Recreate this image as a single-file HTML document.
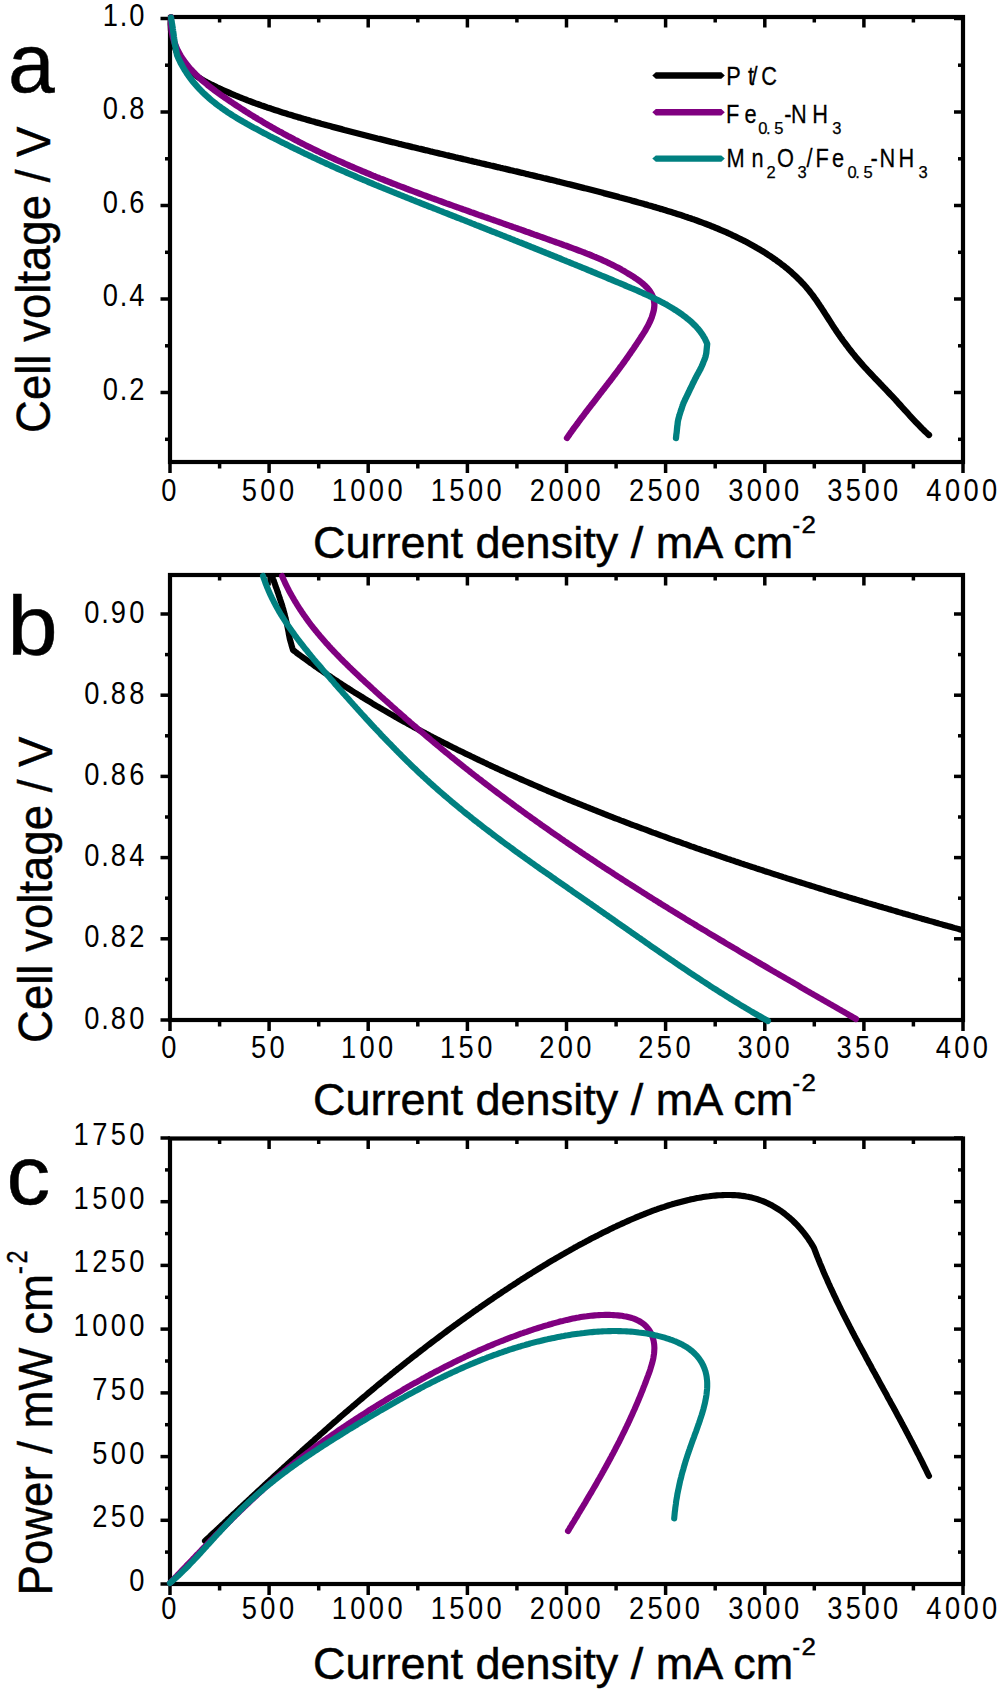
<!DOCTYPE html><html><head><meta charset="utf-8"><style>html,body{margin:0;padding:0;background:#fff;width:1000px;height:1693px;overflow:hidden}svg{display:block}text{font-family:"Liberation Sans",sans-serif;fill:#000}</style></head><body>
<svg width="1000" height="1693" viewBox="0 0 1000 1693">
<rect width="1000" height="1693" fill="#fff"/>
<line x1="170.0" y1="462.0" x2="170.0" y2="473.0" stroke="#000" stroke-width="3.5" stroke-linecap="butt"/>
<line x1="170.0" y1="17.0" x2="170.0" y2="27.5" stroke="#000" stroke-width="3.5" stroke-linecap="butt"/>
<line x1="219.6" y1="462.0" x2="219.6" y2="468.5" stroke="#000" stroke-width="3.5" stroke-linecap="butt"/>
<line x1="219.6" y1="17.0" x2="219.6" y2="22.5" stroke="#000" stroke-width="3.5" stroke-linecap="butt"/>
<line x1="269.1" y1="462.0" x2="269.1" y2="473.0" stroke="#000" stroke-width="3.5" stroke-linecap="butt"/>
<line x1="269.1" y1="17.0" x2="269.1" y2="27.5" stroke="#000" stroke-width="3.5" stroke-linecap="butt"/>
<line x1="318.7" y1="462.0" x2="318.7" y2="468.5" stroke="#000" stroke-width="3.5" stroke-linecap="butt"/>
<line x1="318.7" y1="17.0" x2="318.7" y2="22.5" stroke="#000" stroke-width="3.5" stroke-linecap="butt"/>
<line x1="368.2" y1="462.0" x2="368.2" y2="473.0" stroke="#000" stroke-width="3.5" stroke-linecap="butt"/>
<line x1="368.2" y1="17.0" x2="368.2" y2="27.5" stroke="#000" stroke-width="3.5" stroke-linecap="butt"/>
<line x1="417.8" y1="462.0" x2="417.8" y2="468.5" stroke="#000" stroke-width="3.5" stroke-linecap="butt"/>
<line x1="417.8" y1="17.0" x2="417.8" y2="22.5" stroke="#000" stroke-width="3.5" stroke-linecap="butt"/>
<line x1="467.4" y1="462.0" x2="467.4" y2="473.0" stroke="#000" stroke-width="3.5" stroke-linecap="butt"/>
<line x1="467.4" y1="17.0" x2="467.4" y2="27.5" stroke="#000" stroke-width="3.5" stroke-linecap="butt"/>
<line x1="516.9" y1="462.0" x2="516.9" y2="468.5" stroke="#000" stroke-width="3.5" stroke-linecap="butt"/>
<line x1="516.9" y1="17.0" x2="516.9" y2="22.5" stroke="#000" stroke-width="3.5" stroke-linecap="butt"/>
<line x1="566.5" y1="462.0" x2="566.5" y2="473.0" stroke="#000" stroke-width="3.5" stroke-linecap="butt"/>
<line x1="566.5" y1="17.0" x2="566.5" y2="27.5" stroke="#000" stroke-width="3.5" stroke-linecap="butt"/>
<line x1="616.1" y1="462.0" x2="616.1" y2="468.5" stroke="#000" stroke-width="3.5" stroke-linecap="butt"/>
<line x1="616.1" y1="17.0" x2="616.1" y2="22.5" stroke="#000" stroke-width="3.5" stroke-linecap="butt"/>
<line x1="665.6" y1="462.0" x2="665.6" y2="473.0" stroke="#000" stroke-width="3.5" stroke-linecap="butt"/>
<line x1="665.6" y1="17.0" x2="665.6" y2="27.5" stroke="#000" stroke-width="3.5" stroke-linecap="butt"/>
<line x1="715.2" y1="462.0" x2="715.2" y2="468.5" stroke="#000" stroke-width="3.5" stroke-linecap="butt"/>
<line x1="715.2" y1="17.0" x2="715.2" y2="22.5" stroke="#000" stroke-width="3.5" stroke-linecap="butt"/>
<line x1="764.8" y1="462.0" x2="764.8" y2="473.0" stroke="#000" stroke-width="3.5" stroke-linecap="butt"/>
<line x1="764.8" y1="17.0" x2="764.8" y2="27.5" stroke="#000" stroke-width="3.5" stroke-linecap="butt"/>
<line x1="814.3" y1="462.0" x2="814.3" y2="468.5" stroke="#000" stroke-width="3.5" stroke-linecap="butt"/>
<line x1="814.3" y1="17.0" x2="814.3" y2="22.5" stroke="#000" stroke-width="3.5" stroke-linecap="butt"/>
<line x1="863.9" y1="462.0" x2="863.9" y2="473.0" stroke="#000" stroke-width="3.5" stroke-linecap="butt"/>
<line x1="863.9" y1="17.0" x2="863.9" y2="27.5" stroke="#000" stroke-width="3.5" stroke-linecap="butt"/>
<line x1="913.4" y1="462.0" x2="913.4" y2="468.5" stroke="#000" stroke-width="3.5" stroke-linecap="butt"/>
<line x1="913.4" y1="17.0" x2="913.4" y2="22.5" stroke="#000" stroke-width="3.5" stroke-linecap="butt"/>
<line x1="963.0" y1="462.0" x2="963.0" y2="473.0" stroke="#000" stroke-width="3.5" stroke-linecap="butt"/>
<line x1="963.0" y1="17.0" x2="963.0" y2="27.5" stroke="#000" stroke-width="3.5" stroke-linecap="butt"/>
<line x1="165.0" y1="439.3" x2="170.0" y2="439.3" stroke="#000" stroke-width="3.5" stroke-linecap="butt"/>
<line x1="963.0" y1="439.3" x2="958.0" y2="439.3" stroke="#000" stroke-width="3.5" stroke-linecap="butt"/>
<line x1="160.5" y1="392.5" x2="170.0" y2="392.5" stroke="#000" stroke-width="3.5" stroke-linecap="butt"/>
<line x1="963.0" y1="392.5" x2="954.0" y2="392.5" stroke="#000" stroke-width="3.5" stroke-linecap="butt"/>
<line x1="165.0" y1="345.8" x2="170.0" y2="345.8" stroke="#000" stroke-width="3.5" stroke-linecap="butt"/>
<line x1="963.0" y1="345.8" x2="958.0" y2="345.8" stroke="#000" stroke-width="3.5" stroke-linecap="butt"/>
<line x1="160.5" y1="299.0" x2="170.0" y2="299.0" stroke="#000" stroke-width="3.5" stroke-linecap="butt"/>
<line x1="963.0" y1="299.0" x2="954.0" y2="299.0" stroke="#000" stroke-width="3.5" stroke-linecap="butt"/>
<line x1="165.0" y1="252.3" x2="170.0" y2="252.3" stroke="#000" stroke-width="3.5" stroke-linecap="butt"/>
<line x1="963.0" y1="252.3" x2="958.0" y2="252.3" stroke="#000" stroke-width="3.5" stroke-linecap="butt"/>
<line x1="160.5" y1="205.5" x2="170.0" y2="205.5" stroke="#000" stroke-width="3.5" stroke-linecap="butt"/>
<line x1="963.0" y1="205.5" x2="954.0" y2="205.5" stroke="#000" stroke-width="3.5" stroke-linecap="butt"/>
<line x1="165.0" y1="158.8" x2="170.0" y2="158.8" stroke="#000" stroke-width="3.5" stroke-linecap="butt"/>
<line x1="963.0" y1="158.8" x2="958.0" y2="158.8" stroke="#000" stroke-width="3.5" stroke-linecap="butt"/>
<line x1="160.5" y1="112.0" x2="170.0" y2="112.0" stroke="#000" stroke-width="3.5" stroke-linecap="butt"/>
<line x1="963.0" y1="112.0" x2="954.0" y2="112.0" stroke="#000" stroke-width="3.5" stroke-linecap="butt"/>
<line x1="165.0" y1="65.2" x2="170.0" y2="65.2" stroke="#000" stroke-width="3.5" stroke-linecap="butt"/>
<line x1="963.0" y1="65.2" x2="958.0" y2="65.2" stroke="#000" stroke-width="3.5" stroke-linecap="butt"/>
<line x1="160.5" y1="18.5" x2="170.0" y2="18.5" stroke="#000" stroke-width="3.5" stroke-linecap="butt"/>
<line x1="963.0" y1="18.5" x2="954.0" y2="18.5" stroke="#000" stroke-width="3.5" stroke-linecap="butt"/>
<rect x="170" y="17" width="793" height="445" fill="none" stroke="#000" stroke-width="4.2" stroke-linejoin="miter"/>
<text transform="translate(170.5,501) scale(0.88,1)" font-size="31" text-anchor="middle" letter-spacing="3.87" >0</text>
<text transform="translate(269.6,501) scale(0.88,1)" font-size="31" text-anchor="middle" letter-spacing="3.87" >500</text>
<text transform="translate(368.8,501) scale(0.88,1)" font-size="31" text-anchor="middle" letter-spacing="3.87" >1000</text>
<text transform="translate(467.9,501) scale(0.88,1)" font-size="31" text-anchor="middle" letter-spacing="3.87" >1500</text>
<text transform="translate(567.0,501) scale(0.88,1)" font-size="31" text-anchor="middle" letter-spacing="3.87" >2000</text>
<text transform="translate(666.1,501) scale(0.88,1)" font-size="31" text-anchor="middle" letter-spacing="3.87" >2500</text>
<text transform="translate(765.3,501) scale(0.88,1)" font-size="31" text-anchor="middle" letter-spacing="3.87" >3000</text>
<text transform="translate(864.4,501) scale(0.88,1)" font-size="31" text-anchor="middle" letter-spacing="3.87" >3500</text>
<text transform="translate(963.5,501) scale(0.88,1)" font-size="31" text-anchor="middle" letter-spacing="3.87" >4000</text>
<text transform="translate(147.9,399.5) scale(0.88,1)" font-size="31" text-anchor="end" letter-spacing="3.87" >0<tspan dx="-1.7">.</tspan><tspan dx="-1.7">2</tspan></text>
<text transform="translate(147.9,306.0) scale(0.88,1)" font-size="31" text-anchor="end" letter-spacing="3.87" >0<tspan dx="-1.7">.</tspan><tspan dx="-1.7">4</tspan></text>
<text transform="translate(147.9,212.5) scale(0.88,1)" font-size="31" text-anchor="end" letter-spacing="3.87" >0<tspan dx="-1.7">.</tspan><tspan dx="-1.7">6</tspan></text>
<text transform="translate(147.9,119.0) scale(0.88,1)" font-size="31" text-anchor="end" letter-spacing="3.87" >0<tspan dx="-1.7">.</tspan><tspan dx="-1.7">8</tspan></text>
<text transform="translate(147.9,25.5) scale(0.88,1)" font-size="31" text-anchor="end" letter-spacing="3.87" >1<tspan dx="-1.7">.</tspan><tspan dx="-1.7">0</tspan></text>
<line x1="170.0" y1="1020.0" x2="170.0" y2="1031.0" stroke="#000" stroke-width="3.5" stroke-linecap="butt"/>
<line x1="170.0" y1="575.0" x2="170.0" y2="585.5" stroke="#000" stroke-width="3.5" stroke-linecap="butt"/>
<line x1="219.6" y1="1020.0" x2="219.6" y2="1026.5" stroke="#000" stroke-width="3.5" stroke-linecap="butt"/>
<line x1="219.6" y1="575.0" x2="219.6" y2="580.5" stroke="#000" stroke-width="3.5" stroke-linecap="butt"/>
<line x1="269.1" y1="1020.0" x2="269.1" y2="1031.0" stroke="#000" stroke-width="3.5" stroke-linecap="butt"/>
<line x1="269.1" y1="575.0" x2="269.1" y2="585.5" stroke="#000" stroke-width="3.5" stroke-linecap="butt"/>
<line x1="318.7" y1="1020.0" x2="318.7" y2="1026.5" stroke="#000" stroke-width="3.5" stroke-linecap="butt"/>
<line x1="318.7" y1="575.0" x2="318.7" y2="580.5" stroke="#000" stroke-width="3.5" stroke-linecap="butt"/>
<line x1="368.2" y1="1020.0" x2="368.2" y2="1031.0" stroke="#000" stroke-width="3.5" stroke-linecap="butt"/>
<line x1="368.2" y1="575.0" x2="368.2" y2="585.5" stroke="#000" stroke-width="3.5" stroke-linecap="butt"/>
<line x1="417.8" y1="1020.0" x2="417.8" y2="1026.5" stroke="#000" stroke-width="3.5" stroke-linecap="butt"/>
<line x1="417.8" y1="575.0" x2="417.8" y2="580.5" stroke="#000" stroke-width="3.5" stroke-linecap="butt"/>
<line x1="467.4" y1="1020.0" x2="467.4" y2="1031.0" stroke="#000" stroke-width="3.5" stroke-linecap="butt"/>
<line x1="467.4" y1="575.0" x2="467.4" y2="585.5" stroke="#000" stroke-width="3.5" stroke-linecap="butt"/>
<line x1="516.9" y1="1020.0" x2="516.9" y2="1026.5" stroke="#000" stroke-width="3.5" stroke-linecap="butt"/>
<line x1="516.9" y1="575.0" x2="516.9" y2="580.5" stroke="#000" stroke-width="3.5" stroke-linecap="butt"/>
<line x1="566.5" y1="1020.0" x2="566.5" y2="1031.0" stroke="#000" stroke-width="3.5" stroke-linecap="butt"/>
<line x1="566.5" y1="575.0" x2="566.5" y2="585.5" stroke="#000" stroke-width="3.5" stroke-linecap="butt"/>
<line x1="616.1" y1="1020.0" x2="616.1" y2="1026.5" stroke="#000" stroke-width="3.5" stroke-linecap="butt"/>
<line x1="616.1" y1="575.0" x2="616.1" y2="580.5" stroke="#000" stroke-width="3.5" stroke-linecap="butt"/>
<line x1="665.6" y1="1020.0" x2="665.6" y2="1031.0" stroke="#000" stroke-width="3.5" stroke-linecap="butt"/>
<line x1="665.6" y1="575.0" x2="665.6" y2="585.5" stroke="#000" stroke-width="3.5" stroke-linecap="butt"/>
<line x1="715.2" y1="1020.0" x2="715.2" y2="1026.5" stroke="#000" stroke-width="3.5" stroke-linecap="butt"/>
<line x1="715.2" y1="575.0" x2="715.2" y2="580.5" stroke="#000" stroke-width="3.5" stroke-linecap="butt"/>
<line x1="764.8" y1="1020.0" x2="764.8" y2="1031.0" stroke="#000" stroke-width="3.5" stroke-linecap="butt"/>
<line x1="764.8" y1="575.0" x2="764.8" y2="585.5" stroke="#000" stroke-width="3.5" stroke-linecap="butt"/>
<line x1="814.3" y1="1020.0" x2="814.3" y2="1026.5" stroke="#000" stroke-width="3.5" stroke-linecap="butt"/>
<line x1="814.3" y1="575.0" x2="814.3" y2="580.5" stroke="#000" stroke-width="3.5" stroke-linecap="butt"/>
<line x1="863.9" y1="1020.0" x2="863.9" y2="1031.0" stroke="#000" stroke-width="3.5" stroke-linecap="butt"/>
<line x1="863.9" y1="575.0" x2="863.9" y2="585.5" stroke="#000" stroke-width="3.5" stroke-linecap="butt"/>
<line x1="913.4" y1="1020.0" x2="913.4" y2="1026.5" stroke="#000" stroke-width="3.5" stroke-linecap="butt"/>
<line x1="913.4" y1="575.0" x2="913.4" y2="580.5" stroke="#000" stroke-width="3.5" stroke-linecap="butt"/>
<line x1="963.0" y1="1020.0" x2="963.0" y2="1031.0" stroke="#000" stroke-width="3.5" stroke-linecap="butt"/>
<line x1="963.0" y1="575.0" x2="963.0" y2="585.5" stroke="#000" stroke-width="3.5" stroke-linecap="butt"/>
<line x1="160.5" y1="1020.0" x2="170.0" y2="1020.0" stroke="#000" stroke-width="3.5" stroke-linecap="butt"/>
<line x1="963.0" y1="1020.0" x2="954.0" y2="1020.0" stroke="#000" stroke-width="3.5" stroke-linecap="butt"/>
<line x1="165.0" y1="979.4" x2="170.0" y2="979.4" stroke="#000" stroke-width="3.5" stroke-linecap="butt"/>
<line x1="963.0" y1="979.4" x2="958.0" y2="979.4" stroke="#000" stroke-width="3.5" stroke-linecap="butt"/>
<line x1="160.5" y1="938.8" x2="170.0" y2="938.8" stroke="#000" stroke-width="3.5" stroke-linecap="butt"/>
<line x1="963.0" y1="938.8" x2="954.0" y2="938.8" stroke="#000" stroke-width="3.5" stroke-linecap="butt"/>
<line x1="165.0" y1="898.2" x2="170.0" y2="898.2" stroke="#000" stroke-width="3.5" stroke-linecap="butt"/>
<line x1="963.0" y1="898.2" x2="958.0" y2="898.2" stroke="#000" stroke-width="3.5" stroke-linecap="butt"/>
<line x1="160.5" y1="857.6" x2="170.0" y2="857.6" stroke="#000" stroke-width="3.5" stroke-linecap="butt"/>
<line x1="963.0" y1="857.6" x2="954.0" y2="857.6" stroke="#000" stroke-width="3.5" stroke-linecap="butt"/>
<line x1="165.0" y1="817.0" x2="170.0" y2="817.0" stroke="#000" stroke-width="3.5" stroke-linecap="butt"/>
<line x1="963.0" y1="817.0" x2="958.0" y2="817.0" stroke="#000" stroke-width="3.5" stroke-linecap="butt"/>
<line x1="160.5" y1="776.4" x2="170.0" y2="776.4" stroke="#000" stroke-width="3.5" stroke-linecap="butt"/>
<line x1="963.0" y1="776.4" x2="954.0" y2="776.4" stroke="#000" stroke-width="3.5" stroke-linecap="butt"/>
<line x1="165.0" y1="735.8" x2="170.0" y2="735.8" stroke="#000" stroke-width="3.5" stroke-linecap="butt"/>
<line x1="963.0" y1="735.8" x2="958.0" y2="735.8" stroke="#000" stroke-width="3.5" stroke-linecap="butt"/>
<line x1="160.5" y1="695.2" x2="170.0" y2="695.2" stroke="#000" stroke-width="3.5" stroke-linecap="butt"/>
<line x1="963.0" y1="695.2" x2="954.0" y2="695.2" stroke="#000" stroke-width="3.5" stroke-linecap="butt"/>
<line x1="165.0" y1="654.6" x2="170.0" y2="654.6" stroke="#000" stroke-width="3.5" stroke-linecap="butt"/>
<line x1="963.0" y1="654.6" x2="958.0" y2="654.6" stroke="#000" stroke-width="3.5" stroke-linecap="butt"/>
<line x1="160.5" y1="614.0" x2="170.0" y2="614.0" stroke="#000" stroke-width="3.5" stroke-linecap="butt"/>
<line x1="963.0" y1="614.0" x2="954.0" y2="614.0" stroke="#000" stroke-width="3.5" stroke-linecap="butt"/>
<rect x="170" y="575" width="793" height="445" fill="none" stroke="#000" stroke-width="4.2" stroke-linejoin="miter"/>
<text transform="translate(170.5,1057.5) scale(0.88,1)" font-size="31" text-anchor="middle" letter-spacing="3.87" >0</text>
<text transform="translate(269.6,1057.5) scale(0.88,1)" font-size="31" text-anchor="middle" letter-spacing="3.87" >50</text>
<text transform="translate(368.8,1057.5) scale(0.88,1)" font-size="31" text-anchor="middle" letter-spacing="3.87" >100</text>
<text transform="translate(467.9,1057.5) scale(0.88,1)" font-size="31" text-anchor="middle" letter-spacing="3.87" >150</text>
<text transform="translate(567.0,1057.5) scale(0.88,1)" font-size="31" text-anchor="middle" letter-spacing="3.87" >200</text>
<text transform="translate(666.1,1057.5) scale(0.88,1)" font-size="31" text-anchor="middle" letter-spacing="3.87" >250</text>
<text transform="translate(765.3,1057.5) scale(0.88,1)" font-size="31" text-anchor="middle" letter-spacing="3.87" >300</text>
<text transform="translate(864.4,1057.5) scale(0.88,1)" font-size="31" text-anchor="middle" letter-spacing="3.87" >350</text>
<text transform="translate(963.5,1057.5) scale(0.88,1)" font-size="31" text-anchor="middle" letter-spacing="3.87" >400</text>
<text transform="translate(147.9,1028.5) scale(0.88,1)" font-size="31" text-anchor="end" letter-spacing="3.87" >0<tspan dx="-1.7">.</tspan><tspan dx="-1.7">80</tspan></text>
<text transform="translate(147.9,947.3) scale(0.88,1)" font-size="31" text-anchor="end" letter-spacing="3.87" >0<tspan dx="-1.7">.</tspan><tspan dx="-1.7">82</tspan></text>
<text transform="translate(147.9,866.1) scale(0.88,1)" font-size="31" text-anchor="end" letter-spacing="3.87" >0<tspan dx="-1.7">.</tspan><tspan dx="-1.7">84</tspan></text>
<text transform="translate(147.9,784.9) scale(0.88,1)" font-size="31" text-anchor="end" letter-spacing="3.87" >0<tspan dx="-1.7">.</tspan><tspan dx="-1.7">86</tspan></text>
<text transform="translate(147.9,703.7) scale(0.88,1)" font-size="31" text-anchor="end" letter-spacing="3.87" >0<tspan dx="-1.7">.</tspan><tspan dx="-1.7">88</tspan></text>
<text transform="translate(147.9,622.5) scale(0.88,1)" font-size="31" text-anchor="end" letter-spacing="3.87" >0<tspan dx="-1.7">.</tspan><tspan dx="-1.7">90</tspan></text>
<line x1="170.0" y1="1584.0" x2="170.0" y2="1595.0" stroke="#000" stroke-width="3.5" stroke-linecap="butt"/>
<line x1="170.0" y1="1138.5" x2="170.0" y2="1149.0" stroke="#000" stroke-width="3.5" stroke-linecap="butt"/>
<line x1="219.6" y1="1584.0" x2="219.6" y2="1590.5" stroke="#000" stroke-width="3.5" stroke-linecap="butt"/>
<line x1="219.6" y1="1138.5" x2="219.6" y2="1144.0" stroke="#000" stroke-width="3.5" stroke-linecap="butt"/>
<line x1="269.1" y1="1584.0" x2="269.1" y2="1595.0" stroke="#000" stroke-width="3.5" stroke-linecap="butt"/>
<line x1="269.1" y1="1138.5" x2="269.1" y2="1149.0" stroke="#000" stroke-width="3.5" stroke-linecap="butt"/>
<line x1="318.7" y1="1584.0" x2="318.7" y2="1590.5" stroke="#000" stroke-width="3.5" stroke-linecap="butt"/>
<line x1="318.7" y1="1138.5" x2="318.7" y2="1144.0" stroke="#000" stroke-width="3.5" stroke-linecap="butt"/>
<line x1="368.2" y1="1584.0" x2="368.2" y2="1595.0" stroke="#000" stroke-width="3.5" stroke-linecap="butt"/>
<line x1="368.2" y1="1138.5" x2="368.2" y2="1149.0" stroke="#000" stroke-width="3.5" stroke-linecap="butt"/>
<line x1="417.8" y1="1584.0" x2="417.8" y2="1590.5" stroke="#000" stroke-width="3.5" stroke-linecap="butt"/>
<line x1="417.8" y1="1138.5" x2="417.8" y2="1144.0" stroke="#000" stroke-width="3.5" stroke-linecap="butt"/>
<line x1="467.4" y1="1584.0" x2="467.4" y2="1595.0" stroke="#000" stroke-width="3.5" stroke-linecap="butt"/>
<line x1="467.4" y1="1138.5" x2="467.4" y2="1149.0" stroke="#000" stroke-width="3.5" stroke-linecap="butt"/>
<line x1="516.9" y1="1584.0" x2="516.9" y2="1590.5" stroke="#000" stroke-width="3.5" stroke-linecap="butt"/>
<line x1="516.9" y1="1138.5" x2="516.9" y2="1144.0" stroke="#000" stroke-width="3.5" stroke-linecap="butt"/>
<line x1="566.5" y1="1584.0" x2="566.5" y2="1595.0" stroke="#000" stroke-width="3.5" stroke-linecap="butt"/>
<line x1="566.5" y1="1138.5" x2="566.5" y2="1149.0" stroke="#000" stroke-width="3.5" stroke-linecap="butt"/>
<line x1="616.1" y1="1584.0" x2="616.1" y2="1590.5" stroke="#000" stroke-width="3.5" stroke-linecap="butt"/>
<line x1="616.1" y1="1138.5" x2="616.1" y2="1144.0" stroke="#000" stroke-width="3.5" stroke-linecap="butt"/>
<line x1="665.6" y1="1584.0" x2="665.6" y2="1595.0" stroke="#000" stroke-width="3.5" stroke-linecap="butt"/>
<line x1="665.6" y1="1138.5" x2="665.6" y2="1149.0" stroke="#000" stroke-width="3.5" stroke-linecap="butt"/>
<line x1="715.2" y1="1584.0" x2="715.2" y2="1590.5" stroke="#000" stroke-width="3.5" stroke-linecap="butt"/>
<line x1="715.2" y1="1138.5" x2="715.2" y2="1144.0" stroke="#000" stroke-width="3.5" stroke-linecap="butt"/>
<line x1="764.8" y1="1584.0" x2="764.8" y2="1595.0" stroke="#000" stroke-width="3.5" stroke-linecap="butt"/>
<line x1="764.8" y1="1138.5" x2="764.8" y2="1149.0" stroke="#000" stroke-width="3.5" stroke-linecap="butt"/>
<line x1="814.3" y1="1584.0" x2="814.3" y2="1590.5" stroke="#000" stroke-width="3.5" stroke-linecap="butt"/>
<line x1="814.3" y1="1138.5" x2="814.3" y2="1144.0" stroke="#000" stroke-width="3.5" stroke-linecap="butt"/>
<line x1="863.9" y1="1584.0" x2="863.9" y2="1595.0" stroke="#000" stroke-width="3.5" stroke-linecap="butt"/>
<line x1="863.9" y1="1138.5" x2="863.9" y2="1149.0" stroke="#000" stroke-width="3.5" stroke-linecap="butt"/>
<line x1="913.4" y1="1584.0" x2="913.4" y2="1590.5" stroke="#000" stroke-width="3.5" stroke-linecap="butt"/>
<line x1="913.4" y1="1138.5" x2="913.4" y2="1144.0" stroke="#000" stroke-width="3.5" stroke-linecap="butt"/>
<line x1="963.0" y1="1584.0" x2="963.0" y2="1595.0" stroke="#000" stroke-width="3.5" stroke-linecap="butt"/>
<line x1="963.0" y1="1138.5" x2="963.0" y2="1149.0" stroke="#000" stroke-width="3.5" stroke-linecap="butt"/>
<line x1="160.5" y1="1584.0" x2="170.0" y2="1584.0" stroke="#000" stroke-width="3.5" stroke-linecap="butt"/>
<line x1="963.0" y1="1584.0" x2="954.0" y2="1584.0" stroke="#000" stroke-width="3.5" stroke-linecap="butt"/>
<line x1="165.0" y1="1552.1" x2="170.0" y2="1552.1" stroke="#000" stroke-width="3.5" stroke-linecap="butt"/>
<line x1="963.0" y1="1552.1" x2="958.0" y2="1552.1" stroke="#000" stroke-width="3.5" stroke-linecap="butt"/>
<line x1="160.5" y1="1520.3" x2="170.0" y2="1520.3" stroke="#000" stroke-width="3.5" stroke-linecap="butt"/>
<line x1="963.0" y1="1520.3" x2="954.0" y2="1520.3" stroke="#000" stroke-width="3.5" stroke-linecap="butt"/>
<line x1="165.0" y1="1488.4" x2="170.0" y2="1488.4" stroke="#000" stroke-width="3.5" stroke-linecap="butt"/>
<line x1="963.0" y1="1488.4" x2="958.0" y2="1488.4" stroke="#000" stroke-width="3.5" stroke-linecap="butt"/>
<line x1="160.5" y1="1456.6" x2="170.0" y2="1456.6" stroke="#000" stroke-width="3.5" stroke-linecap="butt"/>
<line x1="963.0" y1="1456.6" x2="954.0" y2="1456.6" stroke="#000" stroke-width="3.5" stroke-linecap="butt"/>
<line x1="165.0" y1="1424.7" x2="170.0" y2="1424.7" stroke="#000" stroke-width="3.5" stroke-linecap="butt"/>
<line x1="963.0" y1="1424.7" x2="958.0" y2="1424.7" stroke="#000" stroke-width="3.5" stroke-linecap="butt"/>
<line x1="160.5" y1="1392.9" x2="170.0" y2="1392.9" stroke="#000" stroke-width="3.5" stroke-linecap="butt"/>
<line x1="963.0" y1="1392.9" x2="954.0" y2="1392.9" stroke="#000" stroke-width="3.5" stroke-linecap="butt"/>
<line x1="165.0" y1="1361.0" x2="170.0" y2="1361.0" stroke="#000" stroke-width="3.5" stroke-linecap="butt"/>
<line x1="963.0" y1="1361.0" x2="958.0" y2="1361.0" stroke="#000" stroke-width="3.5" stroke-linecap="butt"/>
<line x1="160.5" y1="1329.1" x2="170.0" y2="1329.1" stroke="#000" stroke-width="3.5" stroke-linecap="butt"/>
<line x1="963.0" y1="1329.1" x2="954.0" y2="1329.1" stroke="#000" stroke-width="3.5" stroke-linecap="butt"/>
<line x1="165.0" y1="1297.3" x2="170.0" y2="1297.3" stroke="#000" stroke-width="3.5" stroke-linecap="butt"/>
<line x1="963.0" y1="1297.3" x2="958.0" y2="1297.3" stroke="#000" stroke-width="3.5" stroke-linecap="butt"/>
<line x1="160.5" y1="1265.4" x2="170.0" y2="1265.4" stroke="#000" stroke-width="3.5" stroke-linecap="butt"/>
<line x1="963.0" y1="1265.4" x2="954.0" y2="1265.4" stroke="#000" stroke-width="3.5" stroke-linecap="butt"/>
<line x1="165.0" y1="1233.6" x2="170.0" y2="1233.6" stroke="#000" stroke-width="3.5" stroke-linecap="butt"/>
<line x1="963.0" y1="1233.6" x2="958.0" y2="1233.6" stroke="#000" stroke-width="3.5" stroke-linecap="butt"/>
<line x1="160.5" y1="1201.7" x2="170.0" y2="1201.7" stroke="#000" stroke-width="3.5" stroke-linecap="butt"/>
<line x1="963.0" y1="1201.7" x2="954.0" y2="1201.7" stroke="#000" stroke-width="3.5" stroke-linecap="butt"/>
<line x1="165.0" y1="1169.9" x2="170.0" y2="1169.9" stroke="#000" stroke-width="3.5" stroke-linecap="butt"/>
<line x1="963.0" y1="1169.9" x2="958.0" y2="1169.9" stroke="#000" stroke-width="3.5" stroke-linecap="butt"/>
<line x1="160.5" y1="1138.0" x2="170.0" y2="1138.0" stroke="#000" stroke-width="3.5" stroke-linecap="butt"/>
<line x1="963.0" y1="1138.0" x2="954.0" y2="1138.0" stroke="#000" stroke-width="3.5" stroke-linecap="butt"/>
<rect x="170" y="1138.5" width="793" height="445.5" fill="none" stroke="#000" stroke-width="4.2" stroke-linejoin="miter"/>
<text transform="translate(170.5,1619) scale(0.88,1)" font-size="31" text-anchor="middle" letter-spacing="3.87" >0</text>
<text transform="translate(269.6,1619) scale(0.88,1)" font-size="31" text-anchor="middle" letter-spacing="3.87" >500</text>
<text transform="translate(368.8,1619) scale(0.88,1)" font-size="31" text-anchor="middle" letter-spacing="3.87" >1000</text>
<text transform="translate(467.9,1619) scale(0.88,1)" font-size="31" text-anchor="middle" letter-spacing="3.87" >1500</text>
<text transform="translate(567.0,1619) scale(0.88,1)" font-size="31" text-anchor="middle" letter-spacing="3.87" >2000</text>
<text transform="translate(666.1,1619) scale(0.88,1)" font-size="31" text-anchor="middle" letter-spacing="3.87" >2500</text>
<text transform="translate(765.3,1619) scale(0.88,1)" font-size="31" text-anchor="middle" letter-spacing="3.87" >3000</text>
<text transform="translate(864.4,1619) scale(0.88,1)" font-size="31" text-anchor="middle" letter-spacing="3.87" >3500</text>
<text transform="translate(963.5,1619) scale(0.88,1)" font-size="31" text-anchor="middle" letter-spacing="3.87" >4000</text>
<text transform="translate(147.9,1591.0) scale(0.88,1)" font-size="31" text-anchor="end" letter-spacing="3.87" >0</text>
<text transform="translate(147.9,1527.3) scale(0.88,1)" font-size="31" text-anchor="end" letter-spacing="3.87" >250</text>
<text transform="translate(147.9,1463.6) scale(0.88,1)" font-size="31" text-anchor="end" letter-spacing="3.87" >500</text>
<text transform="translate(147.9,1399.9) scale(0.88,1)" font-size="31" text-anchor="end" letter-spacing="3.87" >750</text>
<text transform="translate(147.9,1336.1) scale(0.88,1)" font-size="31" text-anchor="end" letter-spacing="3.87" >1000</text>
<text transform="translate(147.9,1272.4) scale(0.88,1)" font-size="31" text-anchor="end" letter-spacing="3.87" >1250</text>
<text transform="translate(147.9,1208.7) scale(0.88,1)" font-size="31" text-anchor="end" letter-spacing="3.87" >1500</text>
<text transform="translate(147.9,1145.0) scale(0.88,1)" font-size="31" text-anchor="end" letter-spacing="3.87" >1750</text>
<path d="M171.0,17.5 L170.9,19.6 L170.8,21.7 L170.7,23.8 L170.8,25.9 L170.9,28.0 L171.0,30.0 L171.3,32.1 L171.5,34.1 L171.9,36.2 L172.3,38.2 L172.7,40.2 L173.2,42.2 L173.8,44.1 L174.4,46.1 L175.1,48.0 L175.8,49.8 L176.6,51.7 L177.4,53.5 L178.3,55.3 L179.3,57.0 L180.3,58.7 L181.3,60.4 L182.4,62.0 L183.6,63.6 L184.8,65.2 L186.0,66.6 L187.3,68.1 L188.7,69.5 L190.1,70.8 L191.5,72.1 L193.0,73.4 L194.5,74.6 L196.1,75.7 L197.7,76.8 L199.4,77.9 L201.0,79.0 L202.7,80.0 L204.4,81.0 L206.2,81.9 L207.9,82.9 L209.7,83.8 L211.5,84.7 L213.3,85.5 L215.1,86.4 L216.9,87.3 L218.7,88.1 L220.5,89.0 L222.3,89.8 L224.1,90.6 L226.0,91.4 L227.8,92.2 L229.6,93.0 L231.5,93.8 L233.3,94.6 L235.2,95.4 L237.0,96.1 L238.9,96.9 L240.7,97.6 L242.6,98.4 L244.5,99.1 L246.3,99.8 L248.2,100.6 L250.1,101.3 L251.9,102.0 L253.8,102.7 L255.7,103.4 L257.6,104.0 L259.5,104.7 L261.4,105.4 L263.3,106.0 L265.2,106.7 L267.1,107.4 L269.0,108.0 L270.9,108.6 L272.8,109.3 L274.7,109.9 L276.6,110.5 L278.5,111.1 L280.4,111.8 L282.4,112.4 L284.3,113.0 L286.2,113.6 L288.1,114.2 L290.1,114.7 L292.0,115.3 L293.9,115.9 L295.8,116.5 L297.8,117.1 L299.7,117.6 L301.6,118.2 L303.6,118.8 L305.5,119.3 L307.5,119.9 L309.4,120.4 L311.3,121.0 L313.3,121.5 L315.2,122.1 L317.2,122.6 L319.1,123.1 L321.0,123.7 L323.0,124.2 L324.9,124.7 L326.9,125.3 L328.8,125.8 L330.8,126.3 L332.7,126.9 L334.6,127.4 L336.6,127.9 L338.5,128.4 L340.5,128.9 L342.4,129.4 L344.4,130.0 L346.3,130.5 L348.3,131.0 L350.2,131.5 L352.2,132.0 L354.1,132.5 L356.1,133.0 L358.0,133.5 L359.9,134.0 L361.9,134.5 L363.8,135.0 L365.8,135.5 L367.7,136.0 L369.7,136.5 L371.6,137.0 L373.6,137.5 L375.5,138.0 L377.5,138.5 L379.4,138.9 L381.4,139.4 L383.3,139.9 L385.3,140.4 L387.2,140.9 L389.2,141.4 L391.1,141.9 L393.1,142.3 L395.0,142.8 L397.0,143.3 L398.9,143.8 L400.9,144.2 L402.8,144.7 L404.8,145.2 L406.8,145.7 L408.7,146.1 L410.7,146.6 L412.6,147.1 L414.6,147.5 L416.5,148.0 L418.5,148.5 L420.4,148.9 L422.4,149.4 L424.3,149.9 L426.3,150.3 L428.2,150.8 L430.2,151.3 L432.1,151.7 L434.1,152.2 L436.0,152.7 L438.0,153.1 L439.9,153.6 L441.9,154.0 L443.9,154.5 L445.8,155.0 L447.8,155.4 L449.7,155.9 L451.7,156.3 L453.6,156.8 L455.6,157.3 L457.5,157.7 L459.5,158.2 L461.4,158.6 L463.4,159.1 L465.3,159.5 L467.3,160.0 L469.2,160.5 L471.2,160.9 L473.1,161.4 L475.1,161.8 L477.1,162.3 L479.0,162.7 L481.0,163.2 L482.9,163.7 L484.9,164.1 L486.8,164.6 L488.8,165.0 L490.7,165.5 L492.7,165.9 L494.6,166.4 L496.6,166.9 L498.5,167.3 L500.5,167.8 L502.4,168.2 L504.4,168.7 L506.3,169.1 L508.3,169.6 L510.2,170.1 L512.2,170.5 L514.1,171.0 L516.1,171.4 L518.1,171.9 L520.0,172.4 L522.0,172.8 L523.9,173.3 L525.9,173.8 L527.8,174.2 L529.8,174.7 L531.7,175.2 L533.7,175.6 L535.6,176.1 L537.6,176.6 L539.5,177.0 L541.5,177.5 L543.4,178.0 L545.3,178.4 L547.3,178.9 L549.2,179.4 L551.2,179.8 L553.1,180.3 L555.1,180.8 L557.0,181.3 L559.0,181.7 L560.9,182.2 L562.9,182.7 L564.8,183.2 L566.8,183.7 L568.7,184.2 L570.7,184.6 L572.6,185.1 L574.6,185.6 L576.5,186.1 L578.4,186.6 L580.4,187.1 L582.3,187.6 L584.3,188.1 L586.2,188.5 L588.2,189.0 L590.1,189.5 L592.1,190.0 L594.0,190.5 L595.9,191.0 L597.9,191.5 L599.8,192.0 L601.8,192.5 L603.7,193.1 L605.6,193.6 L607.6,194.1 L609.5,194.6 L611.5,195.1 L613.4,195.6 L615.3,196.1 L617.3,196.6 L619.2,197.2 L621.2,197.7 L623.1,198.2 L625.0,198.7 L627.0,199.3 L628.9,199.8 L630.8,200.3 L632.8,200.9 L634.7,201.4 L636.6,201.9 L638.6,202.5 L640.5,203.0 L642.4,203.5 L644.4,204.1 L646.3,204.6 L648.2,205.2 L650.2,205.7 L652.1,206.3 L654.0,206.9 L656.0,207.4 L657.9,208.0 L659.8,208.6 L661.7,209.1 L663.7,209.7 L665.6,210.3 L667.5,210.9 L669.4,211.5 L671.4,212.1 L673.3,212.7 L675.2,213.3 L677.1,213.9 L679.0,214.5 L680.9,215.1 L682.8,215.7 L684.7,216.4 L686.6,217.0 L688.5,217.7 L690.4,218.3 L692.3,219.0 L694.2,219.6 L696.1,220.3 L698.0,221.0 L699.9,221.7 L701.8,222.4 L703.7,223.1 L705.5,223.8 L707.4,224.5 L709.3,225.2 L711.2,226.0 L713.0,226.7 L714.9,227.5 L716.7,228.2 L718.6,229.0 L720.4,229.8 L722.3,230.6 L724.1,231.4 L726.0,232.2 L727.8,233.0 L729.7,233.9 L731.5,234.7 L733.3,235.6 L735.1,236.4 L737.0,237.3 L738.8,238.2 L740.6,239.1 L742.4,240.0 L744.2,240.9 L746.0,241.8 L747.8,242.8 L749.5,243.7 L751.3,244.7 L753.1,245.7 L754.9,246.7 L756.6,247.7 L758.4,248.7 L760.1,249.7 L761.8,250.8 L763.5,251.8 L765.3,252.9 L767.0,254.0 L768.6,255.1 L770.3,256.2 L772.0,257.3 L773.6,258.5 L775.3,259.6 L776.9,260.8 L778.5,261.9 L780.1,263.1 L781.7,264.4 L783.3,265.6 L784.9,266.8 L786.4,268.1 L788.0,269.3 L789.5,270.6 L791.0,271.9 L792.4,273.2 L793.9,274.6 L795.4,275.9 L796.8,277.3 L798.2,278.7 L799.6,280.1 L801.0,281.5 L802.3,282.9 L803.7,284.3 L805.0,285.8 L806.3,287.3 L807.5,288.8 L808.8,290.3 L810.0,291.8 L811.2,293.4 L812.4,294.9 L813.6,296.5 L814.7,298.1 L815.9,299.7 L817.0,301.3 L818.1,303.0 L819.2,304.6 L820.3,306.3 L821.4,307.9 L822.5,309.6 L823.6,311.3 L824.6,312.9 L825.7,314.6 L826.8,316.3 L827.9,318.0 L829.0,319.7 L830.1,321.4 L831.2,323.1 L832.3,324.9 L833.4,326.6 L834.5,328.3 L835.7,330.0 L836.8,331.7 L838.0,333.4 L839.2,335.1 L840.3,336.8 L841.5,338.4 L842.7,340.1 L844.0,341.8 L845.2,343.4 L846.4,345.1 L847.7,346.7 L848.9,348.4 L850.2,350.0 L851.4,351.6 L852.7,353.2 L854.0,354.7 L855.2,356.3 L856.5,357.9 L857.8,359.4 L859.1,360.9 L860.4,362.4 L861.7,363.9 L863.0,365.4 L864.3,366.8 L865.7,368.3 L867.0,369.7 L868.3,371.2 L869.6,372.6 L871.0,374.0 L872.3,375.4 L873.7,376.9 L875.0,378.3 L876.4,379.7 L877.7,381.1 L879.1,382.5 L880.4,383.9 L881.8,385.3 L883.2,386.8 L884.5,388.2 L885.9,389.6 L887.3,391.1 L888.6,392.5 L890.0,394.0 L891.4,395.4 L892.8,396.9 L894.2,398.4 L895.6,399.9 L896.9,401.4 L898.3,403.0 L899.7,404.5 L901.1,406.0 L902.5,407.6 L903.9,409.1 L905.3,410.7 L906.7,412.2 L908.1,413.7 L909.5,415.3 L910.9,416.8 L912.3,418.3 L913.7,419.8 L915.1,421.3 L916.5,422.8 L917.9,424.2 L919.3,425.7 L920.6,427.1 L922.0,428.5 L923.4,429.8 L924.8,431.2 L926.2,432.5 L927.6,433.8 L929.0,435.0" fill="none" stroke="#000000" stroke-width="6.3" stroke-linejoin="round" stroke-linecap="round"/>
<path d="M171.0,17.5 L170.9,19.7 L170.9,21.9 L171.0,24.0 L171.1,26.1 L171.3,28.2 L171.5,30.2 L171.8,32.2 L172.2,34.2 L172.6,36.2 L173.1,38.1 L173.7,40.0 L174.2,41.8 L174.9,43.7 L175.6,45.5 L176.3,47.3 L177.1,49.0 L177.9,50.8 L178.8,52.5 L179.8,54.1 L180.7,55.8 L181.7,57.4 L182.8,59.1 L183.9,60.6 L185.0,62.2 L186.2,63.7 L187.4,65.3 L188.6,66.8 L189.9,68.3 L191.2,69.7 L192.6,71.2 L193.9,72.6 L195.3,74.0 L196.7,75.4 L198.2,76.8 L199.7,78.1 L201.2,79.5 L202.7,80.8 L204.2,82.1 L205.8,83.4 L207.3,84.7 L208.9,86.0 L210.5,87.2 L212.2,88.5 L213.8,89.7 L215.4,91.0 L217.1,92.2 L218.8,93.4 L220.4,94.6 L222.1,95.8 L223.8,96.9 L225.5,98.1 L227.2,99.3 L228.9,100.4 L230.6,101.6 L232.3,102.7 L234.0,103.9 L235.7,105.0 L237.4,106.1 L239.1,107.2 L240.8,108.3 L242.5,109.4 L244.2,110.5 L245.9,111.6 L247.7,112.7 L249.4,113.8 L251.1,114.9 L252.8,115.9 L254.5,117.0 L256.3,118.0 L258.0,119.1 L259.7,120.1 L261.5,121.1 L263.2,122.2 L264.9,123.2 L266.7,124.2 L268.4,125.2 L270.2,126.2 L271.9,127.2 L273.7,128.2 L275.4,129.2 L277.2,130.2 L278.9,131.2 L280.7,132.1 L282.5,133.1 L284.2,134.1 L286.0,135.0 L287.7,136.0 L289.5,136.9 L291.3,137.8 L293.1,138.8 L294.8,139.7 L296.6,140.6 L298.4,141.6 L300.2,142.5 L301.9,143.4 L303.7,144.3 L305.5,145.2 L307.3,146.1 L309.1,147.0 L310.9,147.8 L312.7,148.7 L314.5,149.6 L316.3,150.5 L318.1,151.3 L319.9,152.2 L321.7,153.1 L323.5,153.9 L325.3,154.8 L327.1,155.6 L328.9,156.5 L330.7,157.3 L332.6,158.1 L334.4,159.0 L336.2,159.8 L338.0,160.6 L339.8,161.4 L341.7,162.2 L343.5,163.0 L345.3,163.9 L347.2,164.7 L349.0,165.5 L350.8,166.3 L352.7,167.0 L354.5,167.8 L356.3,168.6 L358.2,169.4 L360.0,170.2 L361.9,171.0 L363.7,171.7 L365.6,172.5 L367.4,173.3 L369.3,174.0 L371.1,174.8 L373.0,175.6 L374.8,176.3 L376.7,177.1 L378.6,177.8 L380.4,178.6 L382.3,179.3 L384.2,180.0 L386.0,180.8 L387.9,181.5 L389.8,182.2 L391.6,183.0 L393.5,183.7 L395.4,184.4 L397.3,185.2 L399.1,185.9 L401.0,186.6 L402.9,187.3 L404.8,188.0 L406.7,188.8 L408.5,189.5 L410.4,190.2 L412.3,190.9 L414.2,191.6 L416.1,192.3 L418.0,193.0 L419.9,193.7 L421.7,194.4 L423.6,195.1 L425.5,195.8 L427.4,196.5 L429.3,197.2 L431.2,197.9 L433.1,198.6 L435.0,199.2 L436.9,199.9 L438.8,200.6 L440.7,201.3 L442.6,202.0 L444.5,202.7 L446.4,203.4 L448.3,204.0 L450.2,204.7 L452.1,205.4 L454.0,206.1 L455.9,206.8 L457.8,207.4 L459.7,208.1 L461.6,208.8 L463.5,209.5 L465.4,210.1 L467.3,210.8 L469.2,211.5 L471.1,212.2 L473.0,212.8 L474.9,213.5 L476.8,214.2 L478.7,214.9 L480.6,215.5 L482.5,216.2 L484.5,216.9 L486.4,217.5 L488.3,218.2 L490.2,218.9 L492.1,219.6 L494.0,220.2 L495.9,220.9 L497.8,221.6 L499.7,222.2 L501.6,222.9 L503.5,223.6 L505.4,224.3 L507.3,224.9 L509.2,225.6 L511.1,226.3 L513.0,227.0 L514.9,227.6 L516.9,228.3 L518.8,229.0 L520.7,229.6 L522.6,230.3 L524.5,231.0 L526.4,231.7 L528.3,232.3 L530.2,233.0 L532.1,233.7 L534.0,234.4 L535.9,235.0 L537.8,235.7 L539.7,236.4 L541.6,237.1 L543.5,237.7 L545.4,238.4 L547.3,239.1 L549.2,239.8 L551.0,240.4 L552.9,241.1 L554.8,241.8 L556.7,242.5 L558.6,243.1 L560.5,243.8 L562.4,244.5 L564.3,245.2 L566.2,245.8 L568.0,246.5 L569.9,247.2 L571.8,247.9 L573.7,248.6 L575.6,249.3 L577.4,250.0 L579.3,250.7 L581.2,251.4 L583.1,252.1 L584.9,252.8 L586.8,253.6 L588.6,254.3 L590.5,255.0 L592.3,255.8 L594.2,256.6 L596.0,257.3 L597.9,258.1 L599.7,258.9 L601.5,259.7 L603.4,260.6 L605.2,261.4 L607.0,262.2 L608.8,263.1 L610.6,264.0 L612.4,264.9 L614.2,265.8 L616.0,266.7 L617.8,267.6 L619.6,268.6 L621.4,269.6 L623.1,270.6 L624.9,271.6 L626.6,272.6 L628.4,273.7 L630.1,274.7 L631.8,275.8 L633.6,276.9 L635.3,278.1 L637.0,279.2 L638.7,280.4 L640.3,281.6 L641.9,282.9 L643.5,284.2 L644.9,285.5 L646.3,286.9 L647.7,288.4 L648.9,289.9 L650.0,291.4 L651.1,293.1 L652.0,294.8 L652.8,296.5 L653.4,298.4 L653.9,300.3 L654.2,302.3 L654.4,304.4 L654.3,306.4 L654.1,308.3 L653.8,310.2 L653.3,312.1 L652.8,314.0 L652.2,315.9 L651.6,317.8 L650.8,319.6 L650.0,321.5 L649.1,323.3 L648.2,325.2 L647.2,327.0 L646.2,328.8 L645.2,330.6 L644.1,332.4 L643.0,334.1 L641.8,335.9 L640.7,337.7 L639.6,339.4 L638.4,341.2 L637.3,342.9 L636.2,344.6 L635.0,346.3 L633.9,348.0 L632.7,349.7 L631.5,351.4 L630.4,353.1 L629.2,354.8 L628.0,356.5 L626.9,358.1 L625.7,359.8 L624.5,361.5 L623.3,363.1 L622.1,364.8 L620.9,366.4 L619.7,368.0 L618.5,369.7 L617.3,371.3 L616.1,372.9 L614.9,374.5 L613.6,376.2 L612.4,377.8 L611.2,379.4 L610.0,381.0 L608.7,382.6 L607.5,384.2 L606.2,385.8 L605.0,387.4 L603.8,389.0 L602.5,390.6 L601.3,392.2 L600.0,393.8 L598.8,395.5 L597.5,397.1 L596.3,398.7 L595.1,400.3 L593.8,401.9 L592.6,403.5 L591.3,405.1 L590.1,406.7 L588.8,408.3 L587.6,409.9 L586.4,411.5 L585.1,413.2 L583.9,414.8 L582.7,416.4 L581.4,418.0 L580.2,419.7 L579.0,421.3 L577.8,423.0 L576.6,424.6 L575.3,426.3 L574.1,427.9 L572.9,429.6 L571.7,431.3 L570.5,432.9 L569.4,434.6 L568.2,436.3 L567.0,438.0" fill="none" stroke="#800080" stroke-width="6.3" stroke-linejoin="round" stroke-linecap="round"/>
<path d="M171.0,17.5 L171.2,18.5 L171.3,19.6 L171.5,20.6 L171.7,21.7 L171.8,22.7 L172.0,23.8 L172.2,24.8 L172.3,25.8 L172.5,26.9 L172.7,27.9 L172.8,29.0 L173.0,30.0 L173.1,31.1 L173.3,32.1 L173.4,33.1 L173.6,34.2 L173.7,35.2 L173.8,36.3 L174.0,37.3 L174.1,38.4 L174.3,39.4 L174.4,40.5 L174.5,41.5 L174.7,42.6 L174.8,43.6 L175.0,44.6 L175.2,45.7 L175.4,46.7 L175.6,47.8 L175.8,48.8 L176.0,49.8 L176.2,50.9 L176.4,51.9 L176.6,52.9 L176.8,54.0 L177.0,55.0 L177.8,56.9 L178.7,58.8 L179.6,60.7 L180.5,62.6 L181.5,64.4 L182.5,66.2 L183.5,68.0 L184.5,69.7 L185.6,71.4 L186.7,73.1 L187.8,74.7 L189.0,76.4 L190.1,78.0 L191.3,79.5 L192.5,81.1 L193.8,82.6 L195.1,84.1 L196.4,85.6 L197.7,87.1 L199.0,88.5 L200.4,89.9 L201.7,91.3 L203.1,92.7 L204.6,94.1 L206.0,95.4 L207.4,96.7 L208.9,98.0 L210.4,99.3 L211.9,100.6 L213.4,101.8 L215.0,103.0 L216.5,104.3 L218.1,105.5 L219.7,106.6 L221.3,107.8 L222.9,108.9 L224.6,110.1 L226.2,111.2 L227.8,112.3 L229.5,113.4 L231.2,114.5 L232.9,115.6 L234.6,116.6 L236.3,117.7 L238.0,118.7 L239.7,119.7 L241.5,120.8 L243.2,121.8 L245.0,122.8 L246.7,123.8 L248.5,124.8 L250.2,125.7 L252.0,126.7 L253.8,127.7 L255.6,128.6 L257.4,129.6 L259.1,130.5 L260.9,131.5 L262.7,132.4 L264.5,133.4 L266.3,134.3 L268.1,135.2 L269.9,136.2 L271.7,137.1 L273.5,138.0 L275.3,138.9 L277.1,139.8 L278.9,140.8 L280.7,141.7 L282.5,142.6 L284.4,143.5 L286.2,144.4 L288.0,145.3 L289.8,146.2 L291.6,147.1 L293.4,148.0 L295.2,148.9 L297.0,149.7 L298.9,150.6 L300.7,151.5 L302.5,152.4 L304.3,153.3 L306.1,154.1 L308.0,155.0 L309.8,155.9 L311.6,156.7 L313.4,157.6 L315.3,158.4 L317.1,159.3 L318.9,160.1 L320.7,161.0 L322.6,161.8 L324.4,162.7 L326.2,163.5 L328.1,164.3 L329.9,165.2 L331.7,166.0 L333.6,166.8 L335.4,167.7 L337.2,168.5 L339.1,169.3 L340.9,170.1 L342.7,170.9 L344.6,171.7 L346.4,172.5 L348.3,173.3 L350.1,174.1 L351.9,174.9 L353.8,175.7 L355.6,176.5 L357.5,177.3 L359.3,178.1 L361.1,178.9 L363.0,179.7 L364.8,180.4 L366.7,181.2 L368.5,182.0 L370.4,182.8 L372.2,183.5 L374.1,184.3 L375.9,185.1 L377.8,185.8 L379.6,186.6 L381.5,187.4 L383.3,188.1 L385.2,188.9 L387.0,189.6 L388.9,190.4 L390.7,191.1 L392.6,191.9 L394.4,192.6 L396.3,193.4 L398.1,194.1 L400.0,194.9 L401.9,195.6 L403.7,196.4 L405.6,197.1 L407.4,197.9 L409.3,198.6 L411.1,199.3 L413.0,200.1 L414.9,200.8 L416.7,201.6 L418.6,202.3 L420.4,203.0 L422.3,203.8 L424.1,204.5 L426.0,205.2 L427.9,206.0 L429.7,206.7 L431.6,207.4 L433.4,208.2 L435.3,208.9 L437.2,209.6 L439.0,210.4 L440.9,211.1 L442.7,211.8 L444.6,212.6 L446.5,213.3 L448.3,214.0 L450.2,214.8 L452.0,215.5 L453.9,216.2 L455.8,217.0 L457.6,217.7 L459.5,218.4 L461.3,219.2 L463.2,219.9 L465.1,220.6 L466.9,221.4 L468.8,222.1 L470.6,222.8 L472.5,223.6 L474.4,224.3 L476.2,225.1 L478.1,225.8 L480.0,226.5 L481.8,227.3 L483.7,228.0 L485.5,228.7 L487.4,229.5 L489.3,230.2 L491.1,231.0 L493.0,231.7 L494.9,232.4 L496.7,233.2 L498.6,233.9 L500.4,234.6 L502.3,235.4 L504.2,236.1 L506.0,236.9 L507.9,237.6 L509.8,238.3 L511.6,239.1 L513.5,239.8 L515.3,240.6 L517.2,241.3 L519.1,242.1 L520.9,242.8 L522.8,243.5 L524.7,244.3 L526.5,245.0 L528.4,245.8 L530.2,246.5 L532.1,247.3 L534.0,248.0 L535.8,248.8 L537.7,249.5 L539.6,250.3 L541.4,251.0 L543.3,251.8 L545.1,252.5 L547.0,253.3 L548.9,254.0 L550.7,254.8 L552.6,255.5 L554.5,256.3 L556.3,257.0 L558.2,257.8 L560.1,258.5 L561.9,259.3 L563.8,260.1 L565.6,260.8 L567.5,261.6 L569.4,262.3 L571.2,263.1 L573.1,263.9 L575.0,264.6 L576.8,265.4 L578.7,266.1 L580.5,266.9 L582.4,267.7 L584.3,268.4 L586.1,269.2 L588.0,270.0 L589.9,270.7 L591.7,271.5 L593.6,272.3 L595.4,273.0 L597.3,273.8 L599.2,274.6 L601.0,275.4 L602.9,276.1 L604.8,276.9 L606.6,277.7 L608.5,278.5 L610.3,279.2 L612.2,280.0 L614.1,280.8 L615.9,281.6 L617.8,282.4 L619.7,283.1 L621.5,283.9 L623.4,284.7 L625.2,285.5 L627.1,286.3 L629.0,287.1 L630.8,287.9 L632.7,288.6 L634.5,289.4 L636.4,290.2 L638.3,291.0 L640.1,291.8 L642.0,292.7 L643.8,293.5 L645.6,294.3 L647.5,295.1 L649.3,296.0 L651.1,296.8 L652.9,297.7 L654.7,298.6 L656.5,299.5 L658.3,300.4 L660.1,301.3 L661.9,302.2 L663.7,303.1 L665.4,304.1 L667.2,305.1 L668.9,306.1 L670.6,307.1 L672.3,308.1 L674.0,309.2 L675.7,310.2 L677.4,311.3 L679.0,312.4 L680.7,313.6 L682.3,314.7 L683.9,315.9 L685.5,317.1 L687.0,318.4 L688.6,319.6 L690.1,320.9 L691.6,322.2 L693.0,323.6 L694.4,324.9 L695.8,326.3 L697.1,327.8 L698.4,329.2 L699.6,330.7 L700.8,332.3 L701.9,333.8 L702.9,335.4 L703.9,337.1 L704.9,338.7 L705.7,340.5 L706.5,342.2 L707.2,344.0 L707.1,345.0 L707.0,346.0 L706.9,347.0 L706.8,348.0 L706.7,349.0 L706.6,350.0 L706.5,351.0 L706.4,352.1 L706.3,353.1 L706.1,354.0 L705.9,355.0 L705.7,356.0 L705.4,357.0 L705.1,357.9 L704.8,358.9 L704.4,359.8 L704.0,360.7 L703.6,361.7 L703.2,362.6 L702.9,363.6 L702.5,364.5 L702.1,365.4 L701.7,366.3 L701.2,367.3 L700.8,368.2 L700.4,369.1 L699.9,370.0 L699.4,370.9 L698.9,371.8 L698.5,372.7 L698.0,373.5 L697.5,374.4 L697.0,375.3 L696.5,376.2 L696.1,377.1 L695.6,378.0 L695.1,378.9 L694.7,379.8 L694.2,380.7 L693.8,381.6 L693.3,382.5 L692.9,383.4 L692.4,384.3 L692.0,385.3 L691.6,386.2 L691.1,387.1 L690.7,388.0 L690.2,388.9 L689.8,389.8 L689.4,390.7 L688.9,391.6 L688.5,392.6 L688.1,393.5 L687.6,394.4 L687.2,395.3 L686.7,396.2 L686.3,397.1 L685.9,398.0 L685.4,398.9 L685.0,399.9 L684.6,400.8 L684.1,401.7 L683.7,402.6 L683.3,403.5 L683.0,404.5 L682.6,405.4 L682.3,406.4 L682.0,407.3 L681.7,408.3 L681.4,409.3 L681.1,410.2 L680.7,411.2 L680.4,412.2 L680.1,413.1 L679.8,414.1 L679.5,415.1 L679.2,416.0 L679.0,417.0 L678.7,418.0 L678.4,419.0 L678.2,419.9 L678.0,420.9 L677.8,421.9 L677.7,422.9 L677.6,423.9 L677.5,424.9 L677.3,425.9 L677.2,426.9 L677.1,427.9 L677.0,428.9 L676.9,430.0 L676.8,431.0 L676.7,432.0 L676.6,433.0 L676.4,434.0 L676.3,435.0 L676.2,436.0 L676.1,437.0 L676.0,438.0" fill="none" stroke="#008080" stroke-width="6.3" stroke-linejoin="round" stroke-linecap="round"/>
<path d="M272.0,576.0 L272.3,577.0 L272.7,577.9 L273.0,578.9 L273.4,579.8 L273.7,580.8 L274.0,581.7 L274.4,582.7 L274.7,583.6 L275.1,584.6 L275.4,585.5 L275.7,586.5 L276.1,587.5 L276.4,588.4 L276.8,589.4 L277.1,590.3 L277.4,591.3 L277.7,592.2 L278.1,593.2 L278.4,594.2 L278.7,595.1 L279.0,596.1 L279.4,597.1 L279.7,598.0 L280.0,599.0 L280.3,599.9 L280.6,600.9 L281.0,601.9 L281.3,602.8 L281.6,603.8 L281.9,604.8 L282.2,605.7 L282.5,606.7 L282.8,607.7 L283.1,608.6 L283.4,609.6 L283.6,610.6 L283.9,611.6 L284.1,612.5 L284.4,613.5 L284.6,614.5 L284.9,615.5 L285.1,616.5 L285.4,617.5 L285.6,618.4 L285.9,619.4 L286.1,620.4 L286.3,621.4 L286.6,622.4 L286.8,623.4 L287.0,624.4 L287.2,625.4 L287.4,626.3 L287.6,627.3 L287.8,628.3 L288.0,629.3 L288.2,630.3 L288.4,631.3 L288.6,632.3 L288.7,633.3 L288.9,634.3 L289.1,635.3 L289.3,636.3 L289.5,637.3 L289.7,638.3 L289.9,639.3 L290.2,640.3 L290.4,641.2 L290.7,642.2 L291.0,643.2 L291.3,644.2 L291.5,645.1 L291.8,646.1 L292.1,647.1 L292.4,648.1 L292.7,649.0 L293.0,650.0 L294.6,651.2 L296.2,652.5 L297.8,653.7 L299.5,654.9 L301.1,656.1 L302.7,657.3 L304.4,658.5 L306.0,659.6 L307.6,660.8 L309.3,662.0 L310.9,663.2 L312.6,664.3 L314.2,665.5 L315.8,666.7 L317.5,667.8 L319.1,669.0 L320.8,670.1 L322.5,671.3 L324.1,672.4 L325.8,673.6 L327.4,674.7 L329.1,675.8 L330.8,676.9 L332.4,678.1 L334.1,679.2 L335.8,680.3 L337.5,681.4 L339.1,682.5 L340.8,683.6 L342.5,684.7 L344.2,685.8 L345.8,686.9 L347.5,688.0 L349.2,689.0 L350.9,690.1 L352.6,691.2 L354.3,692.3 L356.0,693.3 L357.7,694.4 L359.4,695.4 L361.1,696.5 L362.8,697.5 L364.5,698.6 L366.2,699.6 L367.9,700.7 L369.6,701.7 L371.3,702.7 L373.0,703.8 L374.7,704.8 L376.4,705.8 L378.2,706.8 L379.9,707.9 L381.6,708.9 L383.3,709.9 L385.1,710.9 L386.8,711.9 L388.5,712.9 L390.2,713.9 L392.0,714.9 L393.7,715.9 L395.4,716.9 L397.2,717.8 L398.9,718.8 L400.6,719.8 L402.4,720.8 L404.1,721.7 L405.9,722.7 L407.6,723.7 L409.4,724.6 L411.1,725.6 L412.9,726.5 L414.6,727.5 L416.4,728.4 L418.1,729.4 L419.9,730.3 L421.6,731.3 L423.4,732.2 L425.2,733.1 L426.9,734.1 L428.7,735.0 L430.4,735.9 L432.2,736.8 L434.0,737.8 L435.8,738.7 L437.5,739.6 L439.3,740.5 L441.1,741.4 L442.8,742.3 L444.6,743.2 L446.4,744.1 L448.2,745.0 L450.0,745.9 L451.7,746.8 L453.5,747.7 L455.3,748.6 L457.1,749.5 L458.9,750.4 L460.7,751.2 L462.5,752.1 L464.3,753.0 L466.1,753.9 L467.9,754.7 L469.7,755.6 L471.5,756.5 L473.3,757.3 L475.1,758.2 L476.9,759.1 L478.7,759.9 L480.5,760.8 L482.3,761.6 L484.1,762.5 L485.9,763.3 L487.7,764.2 L489.5,765.0 L491.3,765.9 L493.1,766.7 L495.0,767.6 L496.8,768.4 L498.6,769.2 L500.4,770.1 L502.2,770.9 L504.1,771.7 L505.9,772.5 L507.7,773.4 L509.5,774.2 L511.4,775.0 L513.2,775.8 L515.0,776.6 L516.8,777.5 L518.7,778.3 L520.5,779.1 L522.3,779.9 L524.2,780.7 L526.0,781.5 L527.8,782.3 L529.7,783.1 L531.5,783.9 L533.4,784.7 L535.2,785.5 L537.1,786.3 L538.9,787.1 L540.7,787.9 L542.6,788.7 L544.4,789.5 L546.3,790.3 L548.1,791.1 L550.0,791.8 L551.8,792.6 L553.7,793.4 L555.5,794.2 L557.4,795.0 L559.2,795.7 L561.1,796.5 L563.0,797.3 L564.8,798.1 L566.7,798.8 L568.5,799.6 L570.4,800.4 L572.3,801.1 L574.1,801.9 L576.0,802.7 L577.9,803.4 L579.7,804.2 L581.6,804.9 L583.5,805.7 L585.3,806.4 L587.2,807.2 L589.1,807.9 L590.9,808.7 L592.8,809.4 L594.7,810.2 L596.6,810.9 L598.4,811.7 L600.3,812.4 L602.2,813.1 L604.1,813.9 L605.9,814.6 L607.8,815.4 L609.7,816.1 L611.6,816.8 L613.5,817.6 L615.3,818.3 L617.2,819.0 L619.1,819.7 L621.0,820.5 L622.9,821.2 L624.8,821.9 L626.6,822.6 L628.5,823.3 L630.4,824.1 L632.3,824.8 L634.2,825.5 L636.1,826.2 L638.0,826.9 L639.9,827.6 L641.8,828.3 L643.7,829.0 L645.6,829.7 L647.5,830.4 L649.3,831.1 L651.2,831.9 L653.1,832.6 L655.0,833.2 L656.9,833.9 L658.8,834.6 L660.7,835.3 L662.6,836.0 L664.5,836.7 L666.4,837.4 L668.3,838.1 L670.2,838.8 L672.1,839.5 L674.0,840.2 L675.9,840.8 L677.9,841.5 L679.8,842.2 L681.7,842.9 L683.6,843.6 L685.5,844.2 L687.4,844.9 L689.3,845.6 L691.2,846.3 L693.1,846.9 L695.0,847.6 L696.9,848.3 L698.8,848.9 L700.7,849.6 L702.7,850.3 L704.6,850.9 L706.5,851.6 L708.4,852.2 L710.3,852.9 L712.2,853.6 L714.1,854.2 L716.1,854.9 L718.0,855.5 L719.9,856.2 L721.8,856.8 L723.7,857.5 L725.6,858.1 L727.5,858.8 L729.5,859.4 L731.4,860.1 L733.3,860.7 L735.2,861.4 L737.1,862.0 L739.1,862.6 L741.0,863.3 L742.9,863.9 L744.8,864.6 L746.7,865.2 L748.7,865.8 L750.6,866.5 L752.5,867.1 L754.4,867.7 L756.3,868.4 L758.3,869.0 L760.2,869.6 L762.1,870.2 L764.0,870.9 L765.9,871.5 L767.9,872.1 L769.8,872.7 L771.7,873.3 L773.6,874.0 L775.6,874.6 L777.5,875.2 L779.4,875.8 L781.3,876.4 L783.3,877.1 L785.2,877.7 L787.1,878.3 L789.0,878.9 L791.0,879.5 L792.9,880.1 L794.8,880.7 L796.7,881.3 L798.7,881.9 L800.6,882.5 L802.5,883.1 L804.4,883.7 L806.4,884.3 L808.3,884.9 L810.2,885.5 L812.1,886.1 L814.1,886.7 L816.0,887.3 L817.9,887.9 L819.8,888.5 L821.8,889.1 L823.7,889.7 L825.6,890.3 L827.6,890.9 L829.5,891.5 L831.4,892.1 L833.3,892.6 L835.3,893.2 L837.2,893.8 L839.1,894.4 L841.0,895.0 L843.0,895.6 L844.9,896.1 L846.8,896.7 L848.7,897.3 L850.7,897.9 L852.6,898.5 L854.5,899.0 L856.4,899.6 L858.4,900.2 L860.3,900.8 L862.2,901.3 L864.1,901.9 L866.1,902.5 L868.0,903.1 L869.9,903.6 L871.8,904.2 L873.8,904.8 L875.7,905.3 L877.6,905.9 L879.5,906.5 L881.5,907.0 L883.4,907.6 L885.3,908.1 L887.2,908.7 L889.2,909.3 L891.1,909.8 L893.0,910.4 L894.9,910.9 L896.8,911.5 L898.8,912.1 L900.7,912.6 L902.6,913.2 L904.5,913.7 L906.5,914.3 L908.4,914.8 L910.3,915.4 L912.2,915.9 L914.1,916.5 L916.0,917.0 L918.0,917.6 L919.9,918.1 L921.8,918.7 L923.7,919.2 L925.6,919.8 L927.6,920.3 L929.5,920.9 L931.4,921.4 L933.3,921.9 L935.2,922.5 L937.1,923.0 L939.0,923.6 L941.0,924.1 L942.9,924.7 L944.8,925.2 L946.7,925.7 L948.6,926.3 L950.5,926.8 L952.4,927.3 L954.3,927.9 L956.3,928.4 L958.2,928.9 L960.1,929.5 L962.0,930.0" fill="none" stroke="#000000" stroke-width="6.1" stroke-linejoin="round" stroke-linecap="round"/>
<path d="M282.0,576.0 L282.8,577.9 L283.7,579.8 L284.6,581.7 L285.4,583.6 L286.3,585.4 L287.3,587.3 L288.2,589.1 L289.1,590.9 L290.1,592.7 L291.1,594.5 L292.1,596.3 L293.1,598.0 L294.1,599.8 L295.1,601.5 L296.2,603.2 L297.2,604.9 L298.3,606.6 L299.4,608.3 L300.5,610.0 L301.6,611.7 L302.7,613.3 L303.8,614.9 L305.0,616.6 L306.1,618.2 L307.3,619.8 L308.4,621.4 L309.6,623.0 L310.8,624.6 L312.0,626.1 L313.2,627.7 L314.5,629.2 L315.7,630.8 L317.0,632.3 L318.2,633.8 L319.5,635.3 L320.7,636.8 L322.0,638.3 L323.3,639.8 L324.6,641.3 L325.9,642.8 L327.2,644.2 L328.6,645.7 L329.9,647.2 L331.2,648.6 L332.6,650.0 L333.9,651.5 L335.3,652.9 L336.7,654.3 L338.0,655.7 L339.4,657.2 L340.8,658.6 L342.2,660.0 L343.6,661.4 L345.0,662.8 L346.4,664.1 L347.8,665.5 L349.2,666.9 L350.7,668.3 L352.1,669.7 L353.5,671.0 L355.0,672.4 L356.4,673.8 L357.9,675.1 L359.3,676.5 L360.8,677.9 L362.2,679.2 L363.7,680.6 L365.1,681.9 L366.6,683.3 L368.1,684.6 L369.6,686.0 L371.0,687.3 L372.5,688.7 L374.0,690.0 L375.5,691.4 L376.9,692.7 L378.4,694.1 L379.9,695.4 L381.4,696.8 L382.9,698.1 L384.4,699.5 L385.9,700.8 L387.4,702.1 L388.9,703.5 L390.4,704.8 L391.9,706.2 L393.4,707.5 L394.9,708.8 L396.4,710.2 L397.9,711.5 L399.4,712.8 L400.9,714.2 L402.5,715.5 L404.0,716.8 L405.5,718.2 L407.0,719.5 L408.6,720.8 L410.1,722.2 L411.6,723.5 L413.1,724.8 L414.7,726.1 L416.2,727.4 L417.7,728.8 L419.3,730.1 L420.8,731.4 L422.4,732.7 L423.9,734.0 L425.4,735.3 L427.0,736.6 L428.5,737.9 L430.1,739.2 L431.6,740.5 L433.2,741.8 L434.7,743.1 L436.3,744.4 L437.8,745.7 L439.4,747.0 L441.0,748.3 L442.5,749.6 L444.1,750.9 L445.6,752.2 L447.2,753.4 L448.8,754.7 L450.3,756.0 L451.9,757.3 L453.5,758.5 L455.1,759.8 L456.6,761.1 L458.2,762.3 L459.8,763.6 L461.4,764.9 L462.9,766.1 L464.5,767.4 L466.1,768.6 L467.7,769.9 L469.3,771.1 L470.8,772.4 L472.4,773.6 L474.0,774.9 L475.6,776.1 L477.2,777.3 L478.8,778.6 L480.4,779.8 L482.0,781.0 L483.6,782.3 L485.2,783.5 L486.8,784.7 L488.4,785.9 L490.0,787.2 L491.6,788.4 L493.2,789.6 L494.8,790.8 L496.4,792.0 L498.0,793.2 L499.6,794.4 L501.2,795.6 L502.8,796.8 L504.4,798.0 L506.0,799.2 L507.6,800.4 L509.3,801.6 L510.9,802.8 L512.5,804.0 L514.1,805.2 L515.7,806.4 L517.4,807.6 L519.0,808.8 L520.6,810.0 L522.2,811.1 L523.8,812.3 L525.5,813.5 L527.1,814.7 L528.7,815.8 L530.4,817.0 L532.0,818.2 L533.6,819.3 L535.3,820.5 L536.9,821.7 L538.5,822.8 L540.2,824.0 L541.8,825.2 L543.4,826.3 L545.1,827.5 L546.7,828.6 L548.4,829.8 L550.0,830.9 L551.6,832.1 L553.3,833.2 L554.9,834.4 L556.6,835.5 L558.2,836.6 L559.9,837.8 L561.5,838.9 L563.2,840.1 L564.8,841.2 L566.5,842.3 L568.1,843.5 L569.8,844.6 L571.5,845.7 L573.1,846.8 L574.8,848.0 L576.4,849.1 L578.1,850.2 L579.8,851.3 L581.4,852.5 L583.1,853.6 L584.7,854.7 L586.4,855.8 L588.1,856.9 L589.7,858.0 L591.4,859.1 L593.1,860.2 L594.7,861.3 L596.4,862.5 L598.1,863.6 L599.8,864.7 L601.4,865.8 L603.1,866.9 L604.8,868.0 L606.5,869.1 L608.1,870.2 L609.8,871.2 L611.5,872.3 L613.2,873.4 L614.8,874.5 L616.5,875.6 L618.2,876.7 L619.9,877.8 L621.6,878.9 L623.3,880.0 L624.9,881.0 L626.6,882.1 L628.3,883.2 L630.0,884.3 L631.7,885.4 L633.4,886.4 L635.1,887.5 L636.8,888.6 L638.4,889.7 L640.1,890.7 L641.8,891.8 L643.5,892.9 L645.2,893.9 L646.9,895.0 L648.6,896.1 L650.3,897.1 L652.0,898.2 L653.7,899.3 L655.4,900.3 L657.1,901.4 L658.8,902.5 L660.5,903.5 L662.2,904.6 L663.9,905.6 L665.6,906.7 L667.3,907.7 L669.0,908.8 L670.7,909.8 L672.4,910.9 L674.1,911.9 L675.8,913.0 L677.6,914.0 L679.3,915.1 L681.0,916.1 L682.7,917.2 L684.4,918.2 L686.1,919.3 L687.8,920.3 L689.5,921.4 L691.2,922.4 L693.0,923.4 L694.7,924.5 L696.4,925.5 L698.1,926.6 L699.8,927.6 L701.5,928.6 L703.2,929.7 L705.0,930.7 L706.7,931.7 L708.4,932.8 L710.1,933.8 L711.8,934.8 L713.6,935.9 L715.3,936.9 L717.0,937.9 L718.7,939.0 L720.4,940.0 L722.2,941.0 L723.9,942.0 L725.6,943.1 L727.3,944.1 L729.1,945.1 L730.8,946.2 L732.5,947.2 L734.2,948.2 L736.0,949.2 L737.7,950.2 L739.4,951.3 L741.2,952.3 L742.9,953.3 L744.6,954.3 L746.3,955.3 L748.1,956.4 L749.8,957.4 L751.5,958.4 L753.3,959.4 L755.0,960.4 L756.7,961.5 L758.5,962.5 L760.2,963.5 L761.9,964.5 L763.7,965.5 L765.4,966.5 L767.1,967.5 L768.9,968.6 L770.6,969.6 L772.3,970.6 L774.1,971.6 L775.8,972.6 L777.6,973.6 L779.3,974.6 L781.0,975.7 L782.8,976.7 L784.5,977.7 L786.2,978.7 L788.0,979.7 L789.7,980.7 L791.5,981.7 L793.2,982.7 L794.9,983.7 L796.7,984.7 L798.4,985.7 L800.2,986.8 L801.9,987.8 L803.7,988.8 L805.4,989.8 L807.1,990.8 L808.9,991.8 L810.6,992.8 L812.4,993.8 L814.1,994.8 L815.9,995.8 L817.6,996.8 L819.3,997.8 L821.1,998.8 L822.8,999.9 L824.6,1000.9 L826.3,1001.9 L828.1,1002.9 L829.8,1003.9 L831.6,1004.9 L833.3,1005.9 L835.1,1006.9 L836.8,1007.9 L838.5,1008.9 L840.3,1009.9 L842.0,1010.9 L843.8,1011.9 L845.5,1012.9 L847.3,1013.9 L849.0,1015.0 L850.8,1016.0 L852.5,1017.0 L854.3,1018.0 L856.0,1019.0" fill="none" stroke="#800080" stroke-width="6.1" stroke-linejoin="round" stroke-linecap="round"/>
<path d="M263.0,576.0 L263.6,577.9 L264.3,579.8 L265.0,581.7 L265.7,583.6 L266.4,585.4 L267.1,587.3 L267.9,589.1 L268.7,590.9 L269.5,592.7 L270.3,594.6 L271.2,596.4 L272.0,598.1 L272.9,599.9 L273.8,601.7 L274.7,603.4 L275.6,605.2 L276.6,606.9 L277.6,608.7 L278.5,610.4 L279.5,612.1 L280.5,613.8 L281.6,615.5 L282.6,617.2 L283.7,618.9 L284.7,620.5 L285.8,622.2 L286.9,623.9 L288.0,625.5 L289.1,627.2 L290.3,628.8 L291.4,630.4 L292.6,632.0 L293.7,633.7 L294.9,635.3 L296.1,636.9 L297.3,638.5 L298.5,640.1 L299.7,641.7 L300.9,643.3 L302.2,644.8 L303.4,646.4 L304.6,648.0 L305.9,649.6 L307.2,651.1 L308.4,652.7 L309.7,654.2 L311.0,655.8 L312.3,657.4 L313.5,658.9 L314.8,660.4 L316.1,662.0 L317.4,663.5 L318.8,665.1 L320.1,666.6 L321.4,668.1 L322.7,669.7 L324.0,671.2 L325.3,672.7 L326.7,674.2 L328.0,675.8 L329.3,677.3 L330.6,678.8 L332.0,680.3 L333.3,681.8 L334.6,683.4 L335.9,684.9 L337.3,686.4 L338.6,687.9 L339.9,689.4 L341.3,690.9 L342.6,692.5 L343.9,694.0 L345.3,695.5 L346.6,697.0 L348.0,698.5 L349.3,700.0 L350.6,701.5 L352.0,703.0 L353.3,704.5 L354.7,706.0 L356.0,707.5 L357.4,709.0 L358.7,710.5 L360.1,712.0 L361.4,713.5 L362.8,715.0 L364.1,716.4 L365.5,717.9 L366.8,719.4 L368.2,720.9 L369.6,722.4 L370.9,723.8 L372.3,725.3 L373.7,726.8 L375.0,728.3 L376.4,729.7 L377.8,731.2 L379.2,732.6 L380.5,734.1 L381.9,735.6 L383.3,737.0 L384.7,738.5 L386.1,739.9 L387.5,741.4 L388.9,742.8 L390.3,744.2 L391.7,745.7 L393.1,747.1 L394.5,748.5 L395.9,750.0 L397.3,751.4 L398.7,752.8 L400.1,754.2 L401.5,755.7 L402.9,757.1 L404.4,758.5 L405.8,759.9 L407.2,761.3 L408.7,762.7 L410.1,764.1 L411.5,765.5 L413.0,766.9 L414.4,768.2 L415.9,769.6 L417.3,771.0 L418.8,772.4 L420.2,773.7 L421.7,775.1 L423.1,776.5 L424.6,777.8 L426.1,779.2 L427.6,780.5 L429.0,781.9 L430.5,783.2 L432.0,784.6 L433.5,785.9 L435.0,787.2 L436.5,788.5 L438.0,789.9 L439.5,791.2 L441.0,792.5 L442.5,793.8 L444.0,795.1 L445.5,796.4 L447.1,797.7 L448.6,799.0 L450.1,800.3 L451.6,801.6 L453.2,802.9 L454.7,804.2 L456.2,805.4 L457.8,806.7 L459.3,808.0 L460.9,809.2 L462.4,810.5 L464.0,811.8 L465.5,813.0 L467.1,814.3 L468.7,815.5 L470.2,816.8 L471.8,818.0 L473.4,819.3 L474.9,820.5 L476.5,821.7 L478.1,823.0 L479.7,824.2 L481.2,825.4 L482.8,826.7 L484.4,827.9 L486.0,829.1 L487.6,830.3 L489.2,831.5 L490.8,832.7 L492.4,834.0 L494.0,835.2 L495.6,836.4 L497.2,837.6 L498.8,838.8 L500.4,840.0 L502.0,841.2 L503.6,842.4 L505.2,843.6 L506.8,844.8 L508.5,845.9 L510.1,847.1 L511.7,848.3 L513.3,849.5 L514.9,850.7 L516.6,851.9 L518.2,853.0 L519.8,854.2 L521.4,855.4 L523.1,856.6 L524.7,857.7 L526.3,858.9 L528.0,860.1 L529.6,861.2 L531.2,862.4 L532.9,863.6 L534.5,864.7 L536.2,865.9 L537.8,867.0 L539.4,868.2 L541.1,869.4 L542.7,870.5 L544.4,871.7 L546.0,872.8 L547.7,874.0 L549.3,875.1 L551.0,876.3 L552.6,877.4 L554.3,878.6 L555.9,879.7 L557.6,880.9 L559.2,882.0 L560.9,883.2 L562.5,884.3 L564.2,885.5 L565.8,886.6 L567.5,887.8 L569.1,888.9 L570.8,890.1 L572.4,891.2 L574.1,892.4 L575.7,893.5 L577.4,894.7 L579.0,895.8 L580.7,897.0 L582.3,898.1 L584.0,899.2 L585.6,900.4 L587.3,901.5 L588.9,902.7 L590.6,903.8 L592.2,905.0 L593.9,906.1 L595.5,907.3 L597.2,908.4 L598.8,909.6 L600.5,910.7 L602.1,911.9 L603.8,913.0 L605.4,914.2 L607.1,915.3 L608.7,916.5 L610.4,917.6 L612.0,918.8 L613.7,919.9 L615.3,921.1 L616.9,922.2 L618.6,923.4 L620.2,924.5 L621.9,925.7 L623.5,926.8 L625.2,928.0 L626.8,929.1 L628.4,930.3 L630.1,931.4 L631.7,932.6 L633.4,933.7 L635.0,934.9 L636.7,936.0 L638.3,937.2 L640.0,938.3 L641.6,939.5 L643.2,940.6 L644.9,941.8 L646.5,942.9 L648.2,944.1 L649.8,945.2 L651.5,946.4 L653.1,947.5 L654.8,948.6 L656.4,949.8 L658.1,950.9 L659.7,952.1 L661.4,953.2 L663.0,954.3 L664.7,955.5 L666.3,956.6 L668.0,957.7 L669.6,958.9 L671.3,960.0 L672.9,961.1 L674.6,962.3 L676.3,963.4 L677.9,964.5 L679.6,965.7 L681.2,966.8 L682.9,967.9 L684.6,969.0 L686.2,970.1 L687.9,971.2 L689.6,972.4 L691.2,973.5 L692.9,974.6 L694.6,975.7 L696.2,976.8 L697.9,977.9 L699.6,979.0 L701.2,980.1 L702.9,981.2 L704.6,982.3 L706.3,983.4 L708.0,984.5 L709.6,985.6 L711.3,986.7 L713.0,987.8 L714.7,988.8 L716.4,989.9 L718.1,991.0 L719.8,992.1 L721.5,993.2 L723.2,994.2 L724.9,995.3 L726.6,996.4 L728.3,997.4 L730.0,998.5 L731.7,999.5 L733.4,1000.6 L735.1,1001.6 L736.8,1002.7 L738.5,1003.7 L740.2,1004.8 L742.0,1005.8 L743.7,1006.8 L745.4,1007.9 L747.1,1008.9 L748.8,1009.9 L750.6,1011.0 L752.3,1012.0 L754.0,1013.0 L755.8,1014.0 L757.5,1015.0 L759.3,1016.0 L761.0,1017.0 L762.7,1018.0 L764.5,1019.0 L766.3,1020.0 L768.0,1021.0" fill="none" stroke="#008080" stroke-width="6.1" stroke-linejoin="round" stroke-linecap="round"/>
<path d="M205.0,1541.0 L206.5,1539.6 L207.9,1538.3 L209.4,1536.9 L210.8,1535.5 L212.3,1534.1 L213.7,1532.8 L215.2,1531.4 L216.7,1530.0 L218.1,1528.7 L219.6,1527.3 L221.0,1525.9 L222.5,1524.5 L224.0,1523.2 L225.4,1521.8 L226.9,1520.4 L228.3,1519.0 L229.8,1517.7 L231.3,1516.3 L232.7,1514.9 L234.2,1513.6 L235.7,1512.2 L237.1,1510.8 L238.6,1509.4 L240.0,1508.1 L241.5,1506.7 L243.0,1505.3 L244.4,1504.0 L245.9,1502.6 L247.4,1501.2 L248.8,1499.8 L250.3,1498.5 L251.8,1497.1 L253.2,1495.7 L254.7,1494.4 L256.2,1493.0 L257.7,1491.6 L259.1,1490.3 L260.6,1488.9 L262.1,1487.5 L263.5,1486.2 L265.0,1484.8 L266.5,1483.4 L268.0,1482.1 L269.4,1480.7 L270.9,1479.4 L272.4,1478.0 L273.9,1476.6 L275.3,1475.3 L276.8,1473.9 L278.3,1472.6 L279.8,1471.2 L281.2,1469.8 L282.7,1468.5 L284.2,1467.1 L285.7,1465.8 L287.2,1464.4 L288.7,1463.1 L290.1,1461.7 L291.6,1460.4 L293.1,1459.0 L294.6,1457.7 L296.1,1456.3 L297.6,1455.0 L299.1,1453.6 L300.6,1452.3 L302.0,1450.9 L303.5,1449.6 L305.0,1448.2 L306.5,1446.9 L308.0,1445.5 L309.5,1444.2 L311.0,1442.9 L312.5,1441.5 L314.0,1440.2 L315.5,1438.8 L317.0,1437.5 L318.5,1436.2 L320.0,1434.8 L321.5,1433.5 L323.0,1432.2 L324.5,1430.9 L326.0,1429.5 L327.5,1428.2 L329.0,1426.9 L330.5,1425.6 L332.0,1424.2 L333.5,1422.9 L335.0,1421.6 L336.6,1420.3 L338.1,1419.0 L339.6,1417.6 L341.1,1416.3 L342.6,1415.0 L344.1,1413.7 L345.6,1412.4 L347.2,1411.1 L348.7,1409.8 L350.2,1408.5 L351.7,1407.2 L353.2,1405.9 L354.8,1404.6 L356.3,1403.3 L357.8,1402.0 L359.3,1400.7 L360.9,1399.4 L362.4,1398.1 L363.9,1396.8 L365.5,1395.5 L367.0,1394.2 L368.5,1392.9 L370.1,1391.6 L371.6,1390.4 L373.1,1389.1 L374.7,1387.8 L376.2,1386.5 L377.8,1385.2 L379.3,1384.0 L380.9,1382.7 L382.4,1381.4 L384.0,1380.2 L385.5,1378.9 L387.0,1377.6 L388.6,1376.4 L390.2,1375.1 L391.7,1373.8 L393.3,1372.6 L394.8,1371.3 L396.4,1370.1 L397.9,1368.8 L399.5,1367.6 L401.1,1366.3 L402.6,1365.1 L404.2,1363.8 L405.7,1362.6 L407.3,1361.4 L408.9,1360.1 L410.5,1358.9 L412.0,1357.7 L413.6,1356.4 L415.2,1355.2 L416.8,1354.0 L418.3,1352.7 L419.9,1351.5 L421.5,1350.3 L423.1,1349.1 L424.7,1347.8 L426.2,1346.6 L427.8,1345.4 L429.4,1344.2 L431.0,1343.0 L432.6,1341.8 L434.2,1340.6 L435.8,1339.4 L437.4,1338.2 L439.0,1337.0 L440.6,1335.8 L442.2,1334.6 L443.8,1333.4 L445.4,1332.2 L447.0,1331.0 L448.6,1329.8 L450.2,1328.6 L451.8,1327.4 L453.4,1326.3 L455.0,1325.1 L456.7,1323.9 L458.3,1322.7 L459.9,1321.6 L461.5,1320.4 L463.1,1319.2 L464.8,1318.1 L466.4,1316.9 L468.0,1315.7 L469.7,1314.6 L471.3,1313.4 L472.9,1312.3 L474.6,1311.1 L476.2,1310.0 L477.8,1308.8 L479.5,1307.7 L481.1,1306.5 L482.8,1305.4 L484.4,1304.2 L486.1,1303.1 L487.7,1302.0 L489.4,1300.8 L491.0,1299.7 L492.7,1298.6 L494.3,1297.4 L496.0,1296.3 L497.7,1295.2 L499.3,1294.1 L501.0,1293.0 L502.6,1291.8 L504.3,1290.7 L506.0,1289.6 L507.7,1288.5 L509.3,1287.4 L511.0,1286.3 L512.7,1285.2 L514.4,1284.1 L516.1,1283.0 L517.7,1281.9 L519.4,1280.8 L521.1,1279.7 L522.8,1278.7 L524.5,1277.6 L526.2,1276.5 L527.9,1275.4 L529.6,1274.3 L531.3,1273.3 L533.0,1272.2 L534.7,1271.1 L536.4,1270.1 L538.1,1269.0 L539.9,1268.0 L541.6,1266.9 L543.3,1265.9 L545.0,1264.8 L546.7,1263.8 L548.5,1262.7 L550.2,1261.7 L551.9,1260.7 L553.7,1259.7 L555.4,1258.6 L557.1,1257.6 L558.9,1256.6 L560.6,1255.6 L562.3,1254.6 L564.1,1253.6 L565.8,1252.6 L567.6,1251.6 L569.4,1250.6 L571.1,1249.6 L572.9,1248.6 L574.6,1247.6 L576.4,1246.7 L578.2,1245.7 L579.9,1244.7 L581.7,1243.8 L583.5,1242.8 L585.3,1241.9 L587.0,1240.9 L588.8,1240.0 L590.6,1239.0 L592.4,1238.1 L594.2,1237.2 L596.0,1236.3 L597.8,1235.4 L599.6,1234.4 L601.4,1233.5 L603.2,1232.6 L605.0,1231.7 L606.8,1230.9 L608.6,1230.0 L610.4,1229.1 L612.2,1228.2 L614.0,1227.3 L615.9,1226.5 L617.7,1225.6 L619.5,1224.8 L621.4,1223.9 L623.2,1223.1 L625.0,1222.3 L626.9,1221.4 L628.7,1220.6 L630.6,1219.8 L632.4,1219.0 L634.3,1218.2 L636.1,1217.4 L638.0,1216.6 L639.8,1215.9 L641.7,1215.1 L643.6,1214.4 L645.4,1213.6 L647.3,1212.9 L649.2,1212.2 L651.1,1211.4 L653.0,1210.7 L654.8,1210.0 L656.7,1209.4 L658.6,1208.7 L660.5,1208.0 L662.4,1207.4 L664.3,1206.8 L666.2,1206.1 L668.1,1205.5 L670.1,1204.9 L672.0,1204.3 L673.9,1203.8 L675.8,1203.2 L677.7,1202.7 L679.7,1202.2 L681.6,1201.7 L683.5,1201.2 L685.5,1200.7 L687.4,1200.2 L689.4,1199.8 L691.3,1199.3 L693.3,1198.9 L695.2,1198.5 L697.2,1198.1 L699.1,1197.8 L701.1,1197.4 L703.1,1197.1 L705.0,1196.8 L707.0,1196.5 L709.0,1196.3 L711.0,1196.0 L712.9,1195.8 L714.9,1195.6 L716.9,1195.4 L718.9,1195.3 L720.8,1195.2 L722.8,1195.1 L724.8,1195.0 L726.8,1195.0 L728.7,1195.0 L730.7,1195.0 L732.6,1195.1 L734.6,1195.1 L736.5,1195.3 L738.5,1195.4 L740.4,1195.6 L742.3,1195.9 L744.3,1196.1 L746.2,1196.5 L748.1,1196.8 L750.0,1197.2 L751.8,1197.6 L753.7,1198.1 L755.6,1198.6 L757.4,1199.2 L759.2,1199.8 L761.1,1200.5 L762.9,1201.2 L764.7,1201.9 L766.5,1202.7 L768.2,1203.5 L770.0,1204.4 L771.7,1205.3 L773.5,1206.3 L775.2,1207.3 L776.8,1208.3 L778.5,1209.4 L780.2,1210.5 L781.8,1211.6 L783.4,1212.8 L785.0,1214.0 L786.6,1215.3 L788.1,1216.6 L789.7,1217.9 L791.2,1219.2 L792.7,1220.6 L794.1,1222.0 L795.6,1223.5 L797.0,1224.9 L798.4,1226.4 L799.8,1228.0 L801.1,1229.5 L802.4,1231.1 L803.7,1232.7 L805.0,1234.3 L806.2,1235.9 L807.4,1237.6 L808.6,1239.3 L809.7,1241.0 L810.9,1242.7 L811.9,1244.5 L813.0,1246.2 L814.0,1248.0 L814.7,1249.9 L815.4,1251.8 L816.2,1253.7 L816.9,1255.6 L817.6,1257.4 L818.4,1259.3 L819.2,1261.2 L819.9,1263.1 L820.7,1265.0 L821.5,1266.8 L822.3,1268.7 L823.0,1270.6 L823.8,1272.4 L824.6,1274.3 L825.4,1276.1 L826.3,1278.0 L827.1,1279.8 L827.9,1281.7 L828.7,1283.5 L829.6,1285.4 L830.4,1287.2 L831.3,1289.1 L832.1,1290.9 L833.0,1292.7 L833.8,1294.6 L834.7,1296.4 L835.6,1298.2 L836.4,1300.1 L837.3,1301.9 L838.2,1303.7 L839.1,1305.5 L840.0,1307.3 L840.9,1309.2 L841.8,1311.0 L842.7,1312.8 L843.6,1314.6 L844.5,1316.4 L845.4,1318.2 L846.3,1320.0 L847.3,1321.8 L848.2,1323.6 L849.1,1325.4 L850.0,1327.2 L851.0,1329.0 L851.9,1330.8 L852.8,1332.6 L853.8,1334.4 L854.7,1336.2 L855.7,1338.0 L856.6,1339.8 L857.6,1341.6 L858.5,1343.4 L859.5,1345.2 L860.4,1347.0 L861.4,1348.8 L862.4,1350.6 L863.3,1352.3 L864.3,1354.1 L865.3,1355.9 L866.2,1357.7 L867.2,1359.5 L868.2,1361.3 L869.1,1363.1 L870.1,1364.8 L871.1,1366.6 L872.0,1368.4 L873.0,1370.2 L874.0,1372.0 L875.0,1373.7 L875.9,1375.5 L876.9,1377.3 L877.9,1379.1 L878.9,1380.9 L879.8,1382.6 L880.8,1384.4 L881.8,1386.2 L882.8,1388.0 L883.7,1389.8 L884.7,1391.5 L885.7,1393.3 L886.7,1395.1 L887.6,1396.9 L888.6,1398.7 L889.6,1400.4 L890.5,1402.2 L891.5,1404.0 L892.5,1405.8 L893.5,1407.6 L894.4,1409.3 L895.4,1411.1 L896.4,1412.9 L897.3,1414.7 L898.3,1416.5 L899.3,1418.3 L900.2,1420.0 L901.2,1421.8 L902.1,1423.6 L903.1,1425.4 L904.1,1427.2 L905.0,1429.0 L906.0,1430.8 L906.9,1432.6 L907.9,1434.4 L908.8,1436.2 L909.8,1438.0 L910.7,1439.8 L911.6,1441.6 L912.6,1443.4 L913.5,1445.2 L914.5,1447.0 L915.4,1448.8 L916.3,1450.6 L917.2,1452.4 L918.2,1454.2 L919.1,1456.0 L920.0,1457.8 L920.9,1459.6 L921.8,1461.4 L922.7,1463.2 L923.6,1465.1 L924.5,1466.9 L925.4,1468.7 L926.3,1470.5 L927.2,1472.3 L928.1,1474.2 L929.0,1476.0" fill="none" stroke="#000000" stroke-width="6.1" stroke-linejoin="round" stroke-linecap="round"/>
<path d="M170.0,1583.0 L171.3,1581.6 L172.7,1580.2 L174.0,1578.9 L175.3,1577.5 L176.7,1576.1 L178.0,1574.7 L179.3,1573.3 L180.7,1571.8 L182.0,1570.4 L183.4,1569.0 L184.7,1567.6 L186.1,1566.2 L187.5,1564.7 L188.8,1563.3 L190.2,1561.9 L191.5,1560.5 L192.9,1559.0 L194.3,1557.6 L195.7,1556.1 L197.0,1554.7 L198.4,1553.3 L199.8,1551.8 L201.2,1550.4 L202.6,1548.9 L204.0,1547.5 L205.4,1546.0 L206.8,1544.6 L208.2,1543.1 L209.6,1541.7 L211.0,1540.2 L212.4,1538.8 L213.8,1537.3 L215.2,1535.9 L216.6,1534.4 L218.1,1533.0 L219.5,1531.5 L220.9,1530.1 L222.3,1528.6 L223.8,1527.2 L225.2,1525.7 L226.7,1524.3 L228.1,1522.8 L229.5,1521.4 L231.0,1520.0 L232.4,1518.5 L233.9,1517.1 L235.3,1515.6 L236.8,1514.2 L238.3,1512.8 L239.7,1511.4 L241.2,1509.9 L242.7,1508.5 L244.1,1507.1 L245.6,1505.7 L247.1,1504.3 L248.6,1502.9 L250.0,1501.5 L251.5,1500.1 L253.0,1498.7 L254.5,1497.3 L256.0,1495.9 L257.5,1494.5 L259.0,1493.1 L260.5,1491.8 L262.0,1490.4 L263.5,1489.0 L265.0,1487.7 L266.5,1486.3 L268.1,1485.0 L269.6,1483.6 L271.1,1482.3 L272.6,1481.0 L274.2,1479.7 L275.7,1478.3 L277.2,1477.0 L278.7,1475.7 L280.3,1474.4 L281.8,1473.1 L283.4,1471.9 L284.9,1470.6 L286.5,1469.3 L288.0,1468.0 L289.6,1466.8 L291.1,1465.5 L292.7,1464.3 L294.2,1463.0 L295.8,1461.8 L297.4,1460.6 L298.9,1459.3 L300.5,1458.1 L302.1,1456.9 L303.7,1455.7 L305.3,1454.5 L306.8,1453.3 L308.4,1452.1 L310.0,1450.9 L311.6,1449.7 L313.2,1448.5 L314.8,1447.3 L316.4,1446.1 L318.0,1445.0 L319.6,1443.8 L321.2,1442.7 L322.8,1441.5 L324.4,1440.3 L326.0,1439.2 L327.7,1438.0 L329.3,1436.9 L330.9,1435.8 L332.5,1434.6 L334.2,1433.5 L335.8,1432.4 L337.4,1431.3 L339.1,1430.1 L340.7,1429.0 L342.3,1427.9 L344.0,1426.8 L345.6,1425.7 L347.3,1424.6 L348.9,1423.5 L350.6,1422.4 L352.2,1421.3 L353.9,1420.2 L355.6,1419.1 L357.2,1418.1 L358.9,1417.0 L360.6,1415.9 L362.2,1414.8 L363.9,1413.8 L365.6,1412.7 L367.3,1411.6 L368.9,1410.5 L370.6,1409.5 L372.3,1408.4 L374.0,1407.4 L375.7,1406.3 L377.4,1405.2 L379.1,1404.2 L380.8,1403.1 L382.5,1402.1 L384.2,1401.1 L385.9,1400.0 L387.6,1399.0 L389.3,1397.9 L391.0,1396.9 L392.8,1395.9 L394.5,1394.8 L396.2,1393.8 L397.9,1392.8 L399.6,1391.8 L401.4,1390.8 L403.1,1389.7 L404.8,1388.7 L406.6,1387.7 L408.3,1386.7 L410.1,1385.7 L411.8,1384.7 L413.6,1383.7 L415.3,1382.8 L417.1,1381.8 L418.8,1380.8 L420.6,1379.8 L422.3,1378.8 L424.1,1377.9 L425.9,1376.9 L427.6,1375.9 L429.4,1375.0 L431.2,1374.0 L432.9,1373.1 L434.7,1372.1 L436.5,1371.2 L438.3,1370.3 L440.1,1369.3 L441.8,1368.4 L443.6,1367.5 L445.4,1366.6 L447.2,1365.7 L449.0,1364.8 L450.8,1363.9 L452.6,1363.0 L454.4,1362.1 L456.2,1361.2 L458.0,1360.3 L459.8,1359.4 L461.7,1358.5 L463.5,1357.7 L465.3,1356.8 L467.1,1356.0 L468.9,1355.1 L470.8,1354.3 L472.6,1353.4 L474.4,1352.6 L476.2,1351.8 L478.1,1350.9 L479.9,1350.1 L481.8,1349.3 L483.6,1348.5 L485.4,1347.7 L487.3,1346.9 L489.1,1346.1 L491.0,1345.4 L492.8,1344.6 L494.7,1343.8 L496.5,1343.0 L498.4,1342.3 L500.3,1341.5 L502.1,1340.8 L504.0,1340.1 L505.9,1339.3 L507.7,1338.6 L509.6,1337.9 L511.5,1337.2 L513.4,1336.5 L515.3,1335.8 L517.1,1335.1 L519.0,1334.4 L520.9,1333.7 L522.8,1333.1 L524.7,1332.4 L526.6,1331.8 L528.5,1331.1 L530.4,1330.5 L532.3,1329.8 L534.2,1329.2 L536.1,1328.6 L538.0,1328.0 L539.9,1327.4 L541.8,1326.8 L543.7,1326.2 L545.7,1325.6 L547.6,1325.1 L549.5,1324.5 L551.4,1324.0 L553.3,1323.4 L555.3,1322.9 L557.2,1322.4 L559.1,1321.8 L561.1,1321.3 L563.0,1320.9 L565.0,1320.4 L566.9,1319.9 L568.9,1319.5 L570.8,1319.0 L572.8,1318.6 L574.8,1318.2 L576.7,1317.8 L578.7,1317.5 L580.7,1317.1 L582.7,1316.8 L584.7,1316.5 L586.7,1316.3 L588.7,1316.0 L590.7,1315.8 L592.8,1315.6 L594.8,1315.4 L596.8,1315.2 L598.9,1315.1 L601.0,1315.0 L603.0,1315.0 L605.1,1314.9 L607.2,1314.9 L609.3,1314.9 L611.4,1315.0 L613.5,1315.1 L615.6,1315.2 L617.7,1315.4 L619.8,1315.6 L621.9,1315.8 L624.0,1316.2 L626.0,1316.5 L628.0,1317.0 L630.0,1317.5 L631.9,1318.0 L633.8,1318.7 L635.6,1319.4 L637.4,1320.2 L639.0,1321.0 L640.7,1322.0 L642.2,1323.0 L643.7,1324.1 L645.0,1325.3 L646.3,1326.5 L647.5,1327.9 L648.6,1329.3 L649.6,1330.7 L650.5,1332.3 L651.3,1333.9 L652.0,1335.5 L652.6,1337.2 L653.1,1338.9 L653.6,1340.7 L653.9,1342.5 L654.2,1344.4 L654.3,1346.2 L654.4,1348.1 L654.3,1350.0 L654.2,1351.9 L654.0,1353.9 L653.7,1355.8 L653.4,1357.8 L653.0,1359.8 L652.5,1361.7 L652.0,1363.7 L651.4,1365.7 L650.8,1367.7 L650.2,1369.7 L649.5,1371.7 L648.8,1373.6 L648.1,1375.6 L647.3,1377.6 L646.6,1379.6 L645.9,1381.5 L645.1,1383.5 L644.4,1385.4 L643.6,1387.3 L642.9,1389.3 L642.1,1391.2 L641.3,1393.1 L640.6,1395.0 L639.8,1396.9 L639.0,1398.8 L638.2,1400.7 L637.4,1402.6 L636.6,1404.5 L635.8,1406.3 L635.0,1408.2 L634.2,1410.0 L633.3,1411.9 L632.5,1413.7 L631.7,1415.6 L630.8,1417.4 L630.0,1419.2 L629.2,1421.1 L628.3,1422.9 L627.5,1424.7 L626.6,1426.5 L625.7,1428.3 L624.9,1430.1 L624.0,1431.9 L623.1,1433.7 L622.2,1435.5 L621.3,1437.3 L620.4,1439.1 L619.6,1440.8 L618.7,1442.6 L617.7,1444.4 L616.8,1446.1 L615.9,1447.9 L615.0,1449.7 L614.1,1451.4 L613.2,1453.2 L612.2,1454.9 L611.3,1456.7 L610.4,1458.4 L609.4,1460.1 L608.5,1461.9 L607.5,1463.6 L606.6,1465.4 L605.6,1467.1 L604.7,1468.8 L603.7,1470.6 L602.7,1472.3 L601.8,1474.0 L600.8,1475.7 L599.8,1477.5 L598.8,1479.2 L597.8,1480.9 L596.9,1482.6 L595.9,1484.4 L594.9,1486.1 L593.9,1487.8 L592.9,1489.5 L591.9,1491.2 L590.9,1493.0 L589.8,1494.7 L588.8,1496.4 L587.8,1498.1 L586.8,1499.8 L585.8,1501.6 L584.8,1503.3 L583.7,1505.0 L582.7,1506.7 L581.7,1508.4 L580.6,1510.2 L579.6,1511.9 L578.5,1513.6 L577.5,1515.4 L576.5,1517.1 L575.4,1518.8 L574.4,1520.6 L573.3,1522.3 L572.2,1524.0 L571.2,1525.8 L570.1,1527.5 L569.1,1529.3 L568.0,1531.0" fill="none" stroke="#800080" stroke-width="6.1" stroke-linejoin="round" stroke-linecap="round"/>
<path d="M170.0,1583.0 L171.6,1581.7 L173.1,1580.3 L174.6,1579.0 L176.1,1577.6 L177.6,1576.3 L179.1,1574.9 L180.5,1573.5 L182.0,1572.1 L183.4,1570.7 L184.8,1569.3 L186.3,1567.9 L187.7,1566.5 L189.1,1565.1 L190.4,1563.6 L191.8,1562.2 L193.2,1560.8 L194.5,1559.3 L195.9,1557.9 L197.3,1556.4 L198.6,1554.9 L200.0,1553.5 L201.3,1552.0 L202.6,1550.5 L204.0,1549.1 L205.3,1547.6 L206.7,1546.1 L208.0,1544.6 L209.4,1543.1 L210.7,1541.7 L212.0,1540.2 L213.4,1538.7 L214.7,1537.2 L216.1,1535.7 L217.4,1534.2 L218.8,1532.8 L220.2,1531.3 L221.5,1529.8 L222.9,1528.3 L224.3,1526.9 L225.6,1525.4 L227.0,1523.9 L228.4,1522.5 L229.8,1521.0 L231.2,1519.6 L232.5,1518.1 L233.9,1516.7 L235.3,1515.2 L236.8,1513.8 L238.2,1512.4 L239.6,1510.9 L241.0,1509.5 L242.4,1508.1 L243.9,1506.7 L245.3,1505.3 L246.8,1504.0 L248.2,1502.6 L249.7,1501.2 L251.2,1499.9 L252.7,1498.5 L254.2,1497.2 L255.6,1495.8 L257.1,1494.5 L258.7,1493.2 L260.2,1491.9 L261.7,1490.6 L263.2,1489.3 L264.7,1488.0 L266.3,1486.7 L267.8,1485.5 L269.4,1484.2 L270.9,1483.0 L272.5,1481.7 L274.1,1480.5 L275.6,1479.2 L277.2,1478.0 L278.8,1476.8 L280.4,1475.6 L282.0,1474.4 L283.6,1473.1 L285.2,1472.0 L286.8,1470.8 L288.4,1469.6 L290.0,1468.4 L291.6,1467.2 L293.2,1466.0 L294.9,1464.9 L296.5,1463.7 L298.1,1462.6 L299.8,1461.4 L301.4,1460.3 L303.1,1459.1 L304.7,1458.0 L306.4,1456.9 L308.0,1455.7 L309.7,1454.6 L311.4,1453.5 L313.0,1452.4 L314.7,1451.3 L316.4,1450.2 L318.1,1449.1 L319.7,1448.0 L321.4,1446.9 L323.1,1445.8 L324.8,1444.7 L326.5,1443.6 L328.2,1442.5 L329.9,1441.4 L331.6,1440.4 L333.3,1439.3 L335.0,1438.2 L336.7,1437.2 L338.4,1436.1 L340.1,1435.0 L341.8,1434.0 L343.5,1432.9 L345.2,1431.8 L346.9,1430.8 L348.6,1429.7 L350.4,1428.7 L352.1,1427.6 L353.8,1426.6 L355.5,1425.5 L357.2,1424.5 L358.9,1423.4 L360.7,1422.4 L362.4,1421.3 L364.1,1420.3 L365.8,1419.3 L367.6,1418.2 L369.3,1417.2 L371.0,1416.2 L372.7,1415.1 L374.5,1414.1 L376.2,1413.1 L377.9,1412.1 L379.7,1411.0 L381.4,1410.0 L383.1,1409.0 L384.9,1408.0 L386.6,1407.0 L388.3,1406.0 L390.1,1405.0 L391.8,1404.0 L393.6,1403.0 L395.3,1402.0 L397.1,1401.0 L398.8,1400.0 L400.6,1399.1 L402.3,1398.1 L404.1,1397.1 L405.8,1396.1 L407.6,1395.2 L409.3,1394.2 L411.1,1393.3 L412.9,1392.3 L414.6,1391.3 L416.4,1390.4 L418.2,1389.5 L419.9,1388.5 L421.7,1387.6 L423.5,1386.7 L425.3,1385.7 L427.0,1384.8 L428.8,1383.9 L430.6,1383.0 L432.4,1382.1 L434.2,1381.2 L436.0,1380.3 L437.7,1379.4 L439.5,1378.5 L441.3,1377.7 L443.1,1376.8 L444.9,1375.9 L446.7,1375.1 L448.5,1374.2 L450.3,1373.4 L452.1,1372.5 L454.0,1371.7 L455.8,1370.9 L457.6,1370.0 L459.4,1369.2 L461.2,1368.4 L463.0,1367.6 L464.9,1366.8 L466.7,1366.0 L468.5,1365.2 L470.4,1364.4 L472.2,1363.7 L474.0,1362.9 L475.9,1362.1 L477.7,1361.4 L479.6,1360.6 L481.4,1359.9 L483.3,1359.2 L485.1,1358.5 L487.0,1357.7 L488.8,1357.0 L490.7,1356.3 L492.6,1355.6 L494.4,1354.9 L496.3,1354.3 L498.2,1353.6 L500.1,1352.9 L501.9,1352.3 L503.8,1351.6 L505.7,1351.0 L507.6,1350.4 L509.5,1349.7 L511.4,1349.1 L513.3,1348.5 L515.2,1347.9 L517.1,1347.3 L519.0,1346.7 L520.9,1346.2 L522.8,1345.6 L524.7,1345.1 L526.7,1344.5 L528.6,1344.0 L530.5,1343.4 L532.5,1342.9 L534.4,1342.4 L536.3,1341.9 L538.3,1341.4 L540.2,1341.0 L542.2,1340.5 L544.1,1340.0 L546.1,1339.6 L548.0,1339.1 L550.0,1338.7 L552.0,1338.3 L553.9,1337.9 L555.9,1337.5 L557.9,1337.1 L559.9,1336.7 L561.9,1336.3 L563.8,1336.0 L565.8,1335.6 L567.8,1335.3 L569.8,1334.9 L571.8,1334.6 L573.8,1334.3 L575.9,1334.0 L577.9,1333.7 L579.9,1333.5 L581.9,1333.2 L583.9,1333.0 L586.0,1332.7 L588.0,1332.5 L590.0,1332.3 L592.1,1332.1 L594.1,1331.9 L596.1,1331.8 L598.2,1331.6 L600.2,1331.5 L602.2,1331.4 L604.3,1331.3 L606.3,1331.2 L608.4,1331.1 L610.4,1331.1 L612.4,1331.0 L614.5,1331.0 L616.5,1331.0 L618.5,1331.1 L620.6,1331.1 L622.6,1331.2 L624.7,1331.3 L626.7,1331.4 L628.7,1331.5 L630.7,1331.6 L632.8,1331.8 L634.8,1332.0 L636.8,1332.2 L638.8,1332.5 L640.8,1332.7 L642.9,1333.0 L644.9,1333.3 L646.9,1333.6 L648.9,1334.0 L650.9,1334.3 L652.9,1334.7 L654.8,1335.2 L656.8,1335.6 L658.8,1336.1 L660.8,1336.6 L662.7,1337.1 L664.7,1337.7 L666.6,1338.3 L668.6,1338.9 L670.5,1339.6 L672.4,1340.2 L674.3,1341.0 L676.1,1341.7 L677.9,1342.5 L679.7,1343.4 L681.5,1344.2 L683.2,1345.2 L684.9,1346.1 L686.6,1347.1 L688.2,1348.2 L689.7,1349.3 L691.2,1350.5 L692.7,1351.7 L694.1,1353.0 L695.4,1354.3 L696.7,1355.6 L697.9,1357.1 L699.1,1358.6 L700.1,1360.1 L701.2,1361.7 L702.1,1363.3 L702.9,1364.9 L703.7,1366.6 L704.4,1368.3 L705.0,1370.1 L705.6,1371.8 L706.0,1373.6 L706.4,1375.4 L706.7,1377.3 L706.9,1379.1 L707.1,1381.0 L707.2,1382.9 L707.2,1384.8 L707.2,1386.7 L707.1,1388.7 L706.9,1390.6 L706.7,1392.6 L706.5,1394.6 L706.2,1396.6 L705.8,1398.6 L705.4,1400.6 L705.0,1402.7 L704.5,1404.7 L704.0,1406.7 L703.5,1408.8 L702.9,1410.8 L702.3,1412.9 L701.7,1414.9 L701.0,1417.0 L700.3,1419.0 L699.7,1421.1 L699.0,1423.1 L698.2,1425.2 L697.5,1427.2 L696.8,1429.3 L696.1,1431.3 L695.3,1433.3 L694.6,1435.3 L693.9,1437.3 L693.1,1439.3 L692.4,1441.3 L691.7,1443.2 L691.0,1445.2 L690.3,1447.1 L689.7,1449.0 L689.0,1450.9 L688.4,1452.8 L687.7,1454.7 L687.1,1456.6 L686.5,1458.4 L685.9,1460.3 L685.3,1462.2 L684.8,1464.0 L684.2,1465.9 L683.7,1467.7 L683.2,1469.6 L682.6,1471.5 L682.1,1473.3 L681.6,1475.2 L681.2,1477.0 L680.7,1478.9 L680.2,1480.7 L679.8,1482.6 L679.4,1484.5 L679.0,1486.4 L678.6,1488.3 L678.2,1490.2 L677.8,1492.1 L677.4,1494.0 L677.1,1496.0 L676.8,1497.9 L676.4,1499.9 L676.1,1501.9 L675.9,1503.9 L675.6,1505.9 L675.3,1507.9 L675.1,1510.0 L674.8,1512.0 L674.6,1514.1 L674.4,1516.3 L674.2,1518.4" fill="none" stroke="#008080" stroke-width="6.1" stroke-linejoin="round" stroke-linecap="round"/>
<polygon points="652.3,75.5 655.8,72.3 721.3,72.3 724.8,75.5 721.3,78.7 655.8,78.7" fill="#000000"/>
<polygon points="652.3,112.3 655.8,109.1 721.3,109.1 724.8,112.3 721.3,115.5 655.8,115.5" fill="#800080"/>
<polygon points="652.3,158.6 655.8,155.4 721.3,155.4 724.8,158.6 721.3,161.79999999999998 655.8,161.79999999999998" fill="#008080"/>
<text transform="translate(726.3,85.0) scale(0.87,1)" font-size="25" stroke="#000" stroke-width="0.25">P</text>
<text transform="translate(748.0,85.0) scale(0.87,1)" font-size="25" stroke="#000" stroke-width="0.25">t</text>
<text transform="translate(751.5,85.0) scale(0.87,1)" font-size="25" stroke="#000" stroke-width="0.25">/</text>
<text transform="translate(761.3,85.0) scale(0.87,1)" font-size="25" stroke="#000" stroke-width="0.25">C</text>
<text transform="translate(726.0,122.5) scale(0.87,1)" font-size="25" stroke="#000" stroke-width="0.25">F</text>
<text transform="translate(744.5,122.5) scale(0.87,1)" font-size="25" stroke="#000" stroke-width="0.25">e</text>
<text transform="translate(758.3,134.0) scale(1.0,1)" font-size="16.5" stroke="#000" stroke-width="0.25">0</text>
<text transform="translate(766.0,134.0) scale(1.0,1)" font-size="16.5" stroke="#000" stroke-width="0.25">.</text>
<text transform="translate(774.3,134.0) scale(1.0,1)" font-size="16.5" stroke="#000" stroke-width="0.25">5</text>
<text transform="translate(784.3,122.5) scale(0.87,1)" font-size="25" stroke="#000" stroke-width="0.25">-</text>
<text transform="translate(791.0,122.5) scale(0.87,1)" font-size="25" stroke="#000" stroke-width="0.25">N</text>
<text transform="translate(812.3,122.5) scale(0.87,1)" font-size="25" stroke="#000" stroke-width="0.25">H</text>
<text transform="translate(832.3,134.0) scale(1.0,1)" font-size="16.5" stroke="#000" stroke-width="0.25">3</text>
<text transform="translate(726.5,167.0) scale(0.87,1)" font-size="25" stroke="#000" stroke-width="0.25">M</text>
<text transform="translate(751.5,167.0) scale(0.87,1)" font-size="25" stroke="#000" stroke-width="0.25">n</text>
<text transform="translate(766.5,178.0) scale(1.0,1)" font-size="16.5" stroke="#000" stroke-width="0.25">2</text>
<text transform="translate(777.0,167.0) scale(0.87,1)" font-size="25" stroke="#000" stroke-width="0.25">O</text>
<text transform="translate(797.5,178.0) scale(1.0,1)" font-size="16.5" stroke="#000" stroke-width="0.25">3</text>
<text transform="translate(806.5,167.0) scale(0.87,1)" font-size="25" stroke="#000" stroke-width="0.25">/</text>
<text transform="translate(815.5,167.0) scale(0.87,1)" font-size="25" stroke="#000" stroke-width="0.25">F</text>
<text transform="translate(832.0,167.0) scale(0.87,1)" font-size="25" stroke="#000" stroke-width="0.25">e</text>
<text transform="translate(847.5,178.0) scale(1.0,1)" font-size="16.5" stroke="#000" stroke-width="0.25">0</text>
<text transform="translate(855.2,178.0) scale(1.0,1)" font-size="16.5" stroke="#000" stroke-width="0.25">.</text>
<text transform="translate(863.5,178.0) scale(1.0,1)" font-size="16.5" stroke="#000" stroke-width="0.25">5</text>
<text transform="translate(870.5,167.0) scale(0.87,1)" font-size="25" stroke="#000" stroke-width="0.25">-</text>
<text transform="translate(879.5,167.0) scale(0.87,1)" font-size="25" stroke="#000" stroke-width="0.25">N</text>
<text transform="translate(898.5,167.0) scale(0.87,1)" font-size="25" stroke="#000" stroke-width="0.25">H</text>
<text transform="translate(918.5,178.0) scale(1.0,1)" font-size="16.5" stroke="#000" stroke-width="0.25">3</text>
<text x="313" y="557.5" font-size="45" stroke="#000" stroke-width="0.45">Current density / mA cm</text>
<text transform="translate(792.5,534.0) scale(0.9,1)" font-size="25" stroke="#000" stroke-width="0.45">-</text>
<text transform="translate(801.5,533.0) scale(1.08,1)" font-size="24" stroke="#000" stroke-width="0.45">2</text>
<text x="313" y="1115" font-size="45" stroke="#000" stroke-width="0.45">Current density / mA cm</text>
<text transform="translate(792.5,1091.5) scale(0.9,1)" font-size="25" stroke="#000" stroke-width="0.45">-</text>
<text transform="translate(801.5,1090.5) scale(1.08,1)" font-size="24" stroke="#000" stroke-width="0.45">2</text>
<text x="313" y="1679" font-size="45" stroke="#000" stroke-width="0.45">Current density / mA cm</text>
<text transform="translate(792.5,1655.5) scale(0.9,1)" font-size="25" stroke="#000" stroke-width="0.45">-</text>
<text transform="translate(801.5,1654.5) scale(1.08,1)" font-size="24" stroke="#000" stroke-width="0.45">2</text>
<text transform="translate(50,433) rotate(-90) scale(0.93,1)" font-size="49" stroke="#000" stroke-width="0.45">Cell voltage / V</text>
<text transform="translate(52.3,1043) rotate(-90) scale(0.93,1)" font-size="49" stroke="#000" stroke-width="0.45">Cell voltage / V</text>
<text transform="translate(52.3,1595.5) rotate(-90) scale(0.93,1)" font-size="49" stroke="#000" stroke-width="0.45">Power / mW cm</text>
<text transform="translate(28.5,1274) rotate(-90) scale(0.8,1)" font-size="29" stroke="#000" stroke-width="0.45">-</text>
<text transform="translate(27.3,1263.5) rotate(-90) scale(0.8,1)" font-size="29" stroke="#000" stroke-width="0.45">2</text>
<text transform="translate(8,92)" font-size="84" stroke="#000" stroke-width="0.45">a</text>
<text transform="translate(7.2,655) scale(1.08,1)" font-size="84" stroke="#000" stroke-width="0.45">b</text>
<text transform="translate(6.5,1204) scale(1.04,1)" font-size="84" stroke="#000" stroke-width="0.45">c</text>
</svg></body></html>
